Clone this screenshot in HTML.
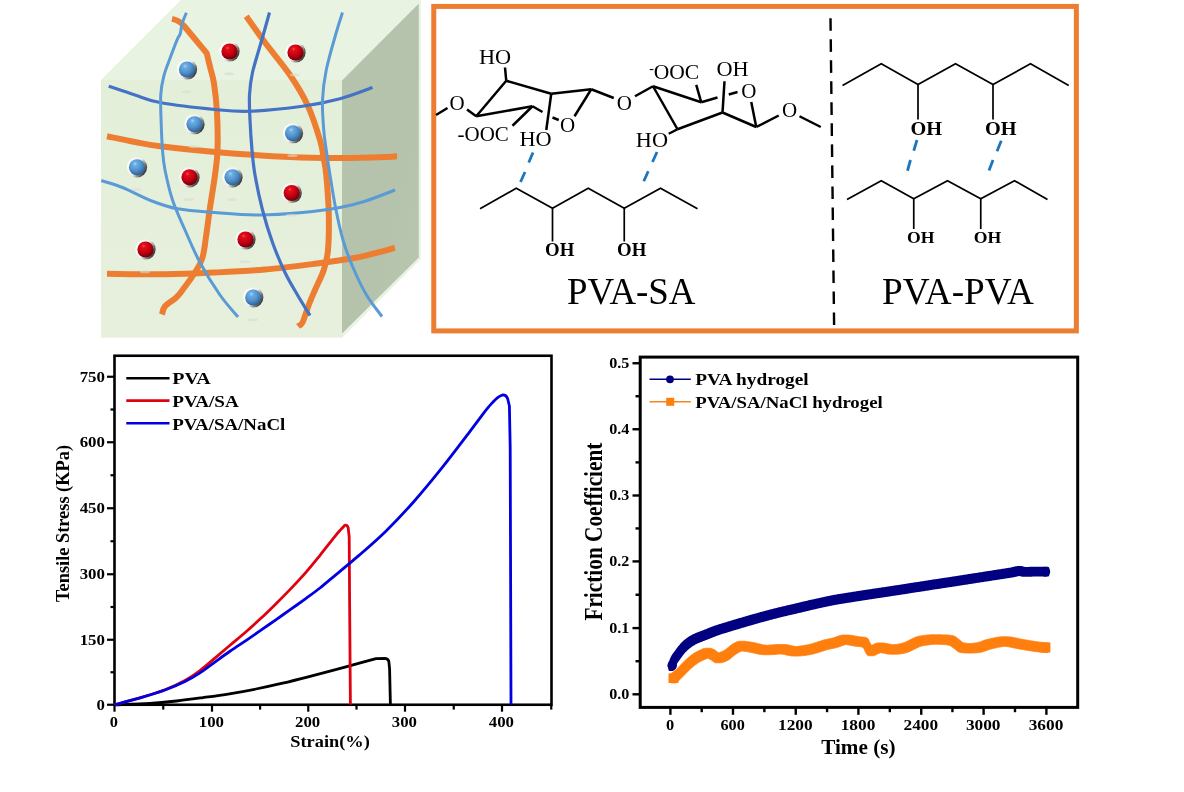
<!DOCTYPE html>
<html lang="en"><head><meta charset="utf-8"><title>PVA/SA/NaCl hydrogel</title>
<style>
html,body{margin:0;padding:0;background:#fff;}
body{width:1184px;height:792px;overflow:hidden;font-family:"Liberation Serif",serif;}
svg{display:block;position:absolute;left:0;top:0;}
text{font-family:"Liberation Serif",serif;}
.b{font-weight:bold;}
</style></head><body>
<svg width="1184" height="792" viewBox="0 0 1184 792">
<defs>
<radialGradient id="gr" cx="0.40" cy="0.33" r="0.68" fx="0.38" fy="0.28">
<stop offset="0" stop-color="#ff5252"/><stop offset="0.16" stop-color="#e20f18"/><stop offset="0.6" stop-color="#c00010"/><stop offset="1" stop-color="#6e0006"/>
</radialGradient>
<radialGradient id="gb" cx="0.40" cy="0.33" r="0.68" fx="0.38" fy="0.28">
<stop offset="0" stop-color="#a6d8fb"/><stop offset="0.18" stop-color="#6aaee4"/><stop offset="0.6" stop-color="#4f8fc9"/><stop offset="1" stop-color="#2f5f90"/>
</radialGradient>
<linearGradient id="rim" x1="0.05" y1="0.25" x2="0.95" y2="0.75">
<stop offset="0" stop-color="#ffffff"/><stop offset="0.5" stop-color="#eeeeee"/><stop offset="0.78" stop-color="#777777"/><stop offset="1" stop-color="#2a2a2a"/>
</linearGradient>
<linearGradient id="side" x1="0" y1="0" x2="1" y2="1">
<stop offset="0" stop-color="#b6c4ae"/><stop offset="0.6" stop-color="#b5c3ad"/><stop offset="1" stop-color="#b9c7b1"/>
</linearGradient>
<linearGradient id="front" x1="0" y1="0" x2="0" y2="1">
<stop offset="0" stop-color="#e4efda"/><stop offset="1" stop-color="#e6f0dc"/>
</linearGradient>
<filter id="blur1" x="-20%" y="-20%" width="140%" height="140%"><feGaussianBlur stdDeviation="0.5"/></filter>
<filter id="blur03" x="-20%" y="-20%" width="140%" height="140%"><feGaussianBlur stdDeviation="0.35"/></filter>
<filter id="blur2" x="-50%" y="-50%" width="200%" height="200%"><feGaussianBlur stdDeviation="1.0"/></filter>
</defs>
<rect x="0" y="0" width="1184" height="792" fill="#ffffff"/>

<g id="cube">
<polygon points="101,80 181,0 420.8,0 420.8,259 342.3,337.4 101,337.4" fill="#e9f3e1"/>
<rect x="101" y="80" width="241" height="257.4" fill="url(#front)"/>
<polygon points="342,80.6 418.8,3.6 418.8,257.4 342,333.6" fill="url(#side)"/>
<path d="M107.00,136.25 C111.67,137.21 126.17,140.33 135.00,142.00 C143.83,143.67 146.67,144.58 160.00,146.25 C173.33,147.92 193.33,150.21 215.00,152.00 C236.67,153.79 269.17,156.00 290.00,157.00 C310.83,158.00 324.00,158.00 340.00,158.00 C356.00,158.00 376.50,157.33 386.00,157.00 C395.50,156.67 395.17,156.17 397.00,156.00" fill="none" stroke="#ed7d31" stroke-width="6.0" stroke-linecap="butt" stroke-linejoin="round"/>
<path d="M107.00,273.75 C116.67,273.83 147.00,274.46 165.00,274.25 C183.00,274.04 198.33,273.29 215.00,272.50 C231.67,271.71 248.33,270.96 265.00,269.50 C281.67,268.04 300.42,265.62 315.00,263.75 C329.58,261.88 340.67,260.54 352.50,258.30 C364.33,256.06 378.95,252.08 386.00,250.30 C393.05,248.52 393.33,248.05 394.80,247.60" fill="none" stroke="#ed7d31" stroke-width="6.0" stroke-linecap="butt" stroke-linejoin="round"/>
<path d="M172,18.9 Q179.5,20.3 184.5,26.5 L206.7,53.1 C207.30,55.58 209.08,62.93 210.30,68.00 C211.52,73.07 212.88,76.08 214.00,83.50 C215.12,90.92 216.42,101.42 217.00,112.50 C217.58,123.58 217.83,139.58 217.50,150.00 C217.17,160.42 216.25,165.42 215.00,175.00 C213.75,184.58 211.46,197.50 210.00,207.50 C208.54,217.50 207.50,226.67 206.25,235.00 C205.00,243.33 204.38,251.25 202.50,257.50 C200.62,263.75 198.33,267.08 195.00,272.50 C191.67,277.92 185.62,285.83 182.50,290.00 C179.38,294.17 179.17,294.79 176.25,297.50 C173.33,300.21 167.38,303.42 165.00,306.25 C162.62,309.08 162.50,313.12 162.00,314.50" fill="none" stroke="#ed7d31" stroke-width="6.0" stroke-linecap="butt" stroke-linejoin="round"/>
<path d="M246.25,16.25 C249.38,20.62 257.71,32.71 265.00,42.50 C272.29,52.29 282.92,64.58 290.00,75.00 C297.08,85.42 302.50,94.17 307.50,105.00 C312.50,115.83 317.25,130.83 320.00,140.00 C322.75,149.17 322.96,154.17 324.00,160.00 C325.04,165.83 325.46,166.25 326.25,175.00 C327.04,183.75 328.46,200.00 328.75,212.50 C329.04,225.00 328.83,240.42 328.00,250.00 C327.17,259.58 325.92,263.33 323.75,270.00 C321.58,276.67 317.50,284.17 315.00,290.00 C312.50,295.83 310.83,299.58 308.75,305.00 C306.67,310.42 304.29,318.96 302.50,322.50 C300.71,326.04 298.75,325.62 298.00,326.25" fill="none" stroke="#ed7d31" stroke-width="6.0" stroke-linecap="butt" stroke-linejoin="round"/>
<path d="M108.75,86.25 C113.12,87.71 126.46,92.29 135.00,95.00 C143.54,97.71 146.67,100.08 160.00,102.50 C173.33,104.92 200.00,108.04 215.00,109.50 C230.00,110.96 235.42,111.79 250.00,111.25 C264.58,110.71 287.50,108.33 302.50,106.25 C317.50,104.17 328.33,101.88 340.00,98.75 C351.67,95.62 367.08,89.38 372.50,87.50" fill="none" stroke="#4472c4" stroke-width="3.2" stroke-linecap="butt" stroke-linejoin="round"/>
<path d="M101.25,180.50 C104.79,181.67 113.96,184.04 122.50,187.50 C131.04,190.96 143.33,197.71 152.50,201.25 C161.67,204.79 167.08,206.88 177.50,208.75 C187.92,210.62 201.25,211.46 215.00,212.50 C228.75,213.54 245.42,215.00 260.00,215.00 C274.58,215.00 289.17,213.75 302.50,212.50 C315.83,211.25 329.58,209.38 340.00,207.50 C350.42,205.62 355.83,204.17 365.00,201.25 C374.17,198.33 390.00,191.88 395.00,190.00" fill="none" stroke="#5b9bd5" stroke-width="3.0" stroke-linecap="butt" stroke-linejoin="round"/>
<path d="M186.40,12.70 C185.68,14.53 183.12,20.23 182.10,23.70 C181.08,27.17 181.13,30.82 180.30,33.50 C179.47,36.18 178.77,35.80 177.10,39.80 C175.43,43.80 172.52,51.45 170.30,57.50 C168.08,63.55 165.39,69.85 163.80,76.10 C162.21,82.35 161.18,86.85 160.75,95.00 C160.32,103.15 160.96,115.83 161.25,125.00 C161.54,134.17 161.88,142.50 162.50,150.00 C163.12,157.50 163.33,161.67 165.00,170.00 C166.67,178.33 169.17,190.00 172.50,200.00 C175.83,210.00 180.42,219.58 185.00,230.00 C189.58,240.42 194.17,251.67 200.00,262.50 C205.83,273.33 213.67,285.92 220.00,295.00 C226.33,304.08 235.00,313.33 238.00,317.00" fill="none" stroke="#5b9bd5" stroke-width="3.0" stroke-linecap="butt" stroke-linejoin="round"/>
<path d="M269.50,12.50 C268.33,16.67 265.33,27.50 262.50,37.50 C259.67,47.50 254.67,62.92 252.50,72.50 C250.33,82.08 249.92,87.08 249.50,95.00 C249.08,102.92 249.58,110.83 250.00,120.00 C250.42,129.17 251.17,140.83 252.00,150.00 C252.83,159.17 253.25,165.00 255.00,175.00 C256.75,185.00 259.58,198.75 262.50,210.00 C265.42,221.25 268.75,232.08 272.50,242.50 C276.25,252.92 280.83,263.75 285.00,272.50 C289.17,281.25 293.33,287.83 297.50,295.00 C301.67,302.17 307.92,312.08 310.00,315.50" fill="none" stroke="#4472c4" stroke-width="3.2" stroke-linecap="butt" stroke-linejoin="round"/>
<path d="M342.50,12.50 C341.46,15.83 338.96,22.92 336.25,32.50 C333.54,42.08 328.54,58.75 326.25,70.00 C323.96,81.25 322.92,90.00 322.50,100.00 C322.08,110.00 323.12,121.67 323.75,130.00 C324.38,138.33 325.21,142.50 326.25,150.00 C327.29,157.50 328.46,165.42 330.00,175.00 C331.54,184.58 333.33,196.67 335.50,207.50 C337.67,218.33 340.08,230.00 343.00,240.00 C345.92,250.00 349.08,258.33 353.00,267.50 C356.92,276.67 361.67,286.83 366.50,295.00 C371.33,303.17 379.42,312.92 382.00,316.50" fill="none" stroke="#5b9bd5" stroke-width="3.0" stroke-linecap="butt" stroke-linejoin="round"/>
<ellipse cx="229.00" cy="73.80" rx="5.2" ry="1.5" fill="#d8ddd2" opacity="0.6" filter="url(#blur1)"/>
<circle cx="229.50" cy="51.50" r="10.1" fill="url(#rim)" filter="url(#blur03)"/>
<circle cx="229.50" cy="51.50" r="8.1" fill="url(#gr)"/>
<ellipse cx="295.00" cy="74.80" rx="5.2" ry="1.5" fill="#d8ddd2" opacity="0.6" filter="url(#blur1)"/>
<circle cx="295.50" cy="52.50" r="10.1" fill="url(#rim)" filter="url(#blur03)"/>
<circle cx="295.50" cy="52.50" r="8.1" fill="url(#gr)"/>
<ellipse cx="186.50" cy="91.80" rx="5.2" ry="1.5" fill="#d8ddd2" opacity="0.6" filter="url(#blur1)"/>
<circle cx="187.00" cy="69.50" r="10.1" fill="url(#rim)" filter="url(#blur03)"/>
<circle cx="187.00" cy="69.50" r="8.1" fill="url(#gb)"/>
<ellipse cx="194.00" cy="146.55" rx="5.2" ry="1.5" fill="#d8ddd2" opacity="0.6" filter="url(#blur1)"/>
<circle cx="194.50" cy="124.25" r="10.1" fill="url(#rim)" filter="url(#blur03)"/>
<circle cx="194.50" cy="124.25" r="8.1" fill="url(#gb)"/>
<ellipse cx="292.50" cy="155.55" rx="5.2" ry="1.5" fill="#d8ddd2" opacity="0.6" filter="url(#blur1)"/>
<circle cx="293.00" cy="133.25" r="10.1" fill="url(#rim)" filter="url(#blur03)"/>
<circle cx="293.00" cy="133.25" r="8.1" fill="url(#gb)"/>
<ellipse cx="136.50" cy="189.60" rx="5.2" ry="1.5" fill="#d8ddd2" opacity="0.6" filter="url(#blur1)"/>
<circle cx="137.00" cy="167.30" r="10.1" fill="url(#rim)" filter="url(#blur03)"/>
<circle cx="137.00" cy="167.30" r="8.1" fill="url(#gb)"/>
<ellipse cx="189.00" cy="199.60" rx="5.2" ry="1.5" fill="#d8ddd2" opacity="0.6" filter="url(#blur1)"/>
<circle cx="189.50" cy="177.30" r="10.1" fill="url(#rim)" filter="url(#blur03)"/>
<circle cx="189.50" cy="177.30" r="8.1" fill="url(#gr)"/>
<ellipse cx="232.00" cy="199.60" rx="5.2" ry="1.5" fill="#d8ddd2" opacity="0.6" filter="url(#blur1)"/>
<circle cx="232.50" cy="177.30" r="10.1" fill="url(#rim)" filter="url(#blur03)"/>
<circle cx="232.50" cy="177.30" r="8.1" fill="url(#gb)"/>
<ellipse cx="291.20" cy="215.30" rx="5.2" ry="1.5" fill="#d8ddd2" opacity="0.6" filter="url(#blur1)"/>
<circle cx="291.70" cy="193.00" r="10.1" fill="url(#rim)" filter="url(#blur03)"/>
<circle cx="291.70" cy="193.00" r="8.1" fill="url(#gr)"/>
<ellipse cx="245.00" cy="261.80" rx="5.2" ry="1.5" fill="#d8ddd2" opacity="0.6" filter="url(#blur1)"/>
<circle cx="245.50" cy="239.50" r="10.1" fill="url(#rim)" filter="url(#blur03)"/>
<circle cx="245.50" cy="239.50" r="8.1" fill="url(#gr)"/>
<ellipse cx="145.00" cy="271.80" rx="5.2" ry="1.5" fill="#d8ddd2" opacity="0.6" filter="url(#blur1)"/>
<circle cx="145.50" cy="249.50" r="10.1" fill="url(#rim)" filter="url(#blur03)"/>
<circle cx="145.50" cy="249.50" r="8.1" fill="url(#gr)"/>
<ellipse cx="252.75" cy="319.80" rx="5.2" ry="1.5" fill="#d8ddd2" opacity="0.6" filter="url(#blur1)"/>
<circle cx="253.25" cy="297.50" r="10.1" fill="url(#rim)" filter="url(#blur03)"/>
<circle cx="253.25" cy="297.50" r="8.1" fill="url(#gb)"/>
</g>
<rect x="433.75" y="6.4" width="642.6" height="324.5" fill="#ffffff" stroke="#ed7d31" stroke-width="5"/>
<line x1="830.5" y1="18.25" x2="834.1" y2="325" stroke="#000" stroke-width="2.4" stroke-dasharray="12.6 8.42"/>
<g id="sa" fill="none" stroke="#000" stroke-width="2.5" stroke-linecap="butt" stroke-linejoin="miter">
<path d="M436.00,115.00 L447.50,108.00"/>
<path d="M467.00,109.50 L476.25,116.25"/>
<path d="M476.25,116.25 L506.25,80.75"/>
<path d="M506.25,80.75 L505.00,67.50"/>
<path d="M506.25,80.75 L551.25,93.75"/>
<path d="M551.25,93.75 L591.25,89.25"/>
<path d="M591.25,89.25 L613.75,98.00"/>
<path d="M591.25,89.25 L574.50,116.25"/>
<path d="M551.25,93.75 L546.25,130.00"/>
<path d="M476.25,116.25 L532.50,106.25"/>
<path d="M532.50,106.25 L542.50,112.00"/>
<path d="M552.50,117.50 L558.75,120.00"/>
<path d="M532.50,106.25 L512.50,125.75"/>
<path d="M635.00,96.25 L653.00,86.25"/>
<path d="M653.00,86.25 L701.25,102.30"/>
<path d="M701.25,102.30 L696.25,84.80"/>
<path d="M701.25,102.30 L717.50,97.50"/>
<path d="M728.75,94.50 L737.50,92.00"/>
<path d="M653.00,86.25 L677.50,129.25"/>
<path d="M677.50,129.25 L722.50,112.50"/>
<path d="M722.50,112.50 L724.50,81.25"/>
<path d="M722.50,112.50 L756.25,127.00"/>
<path d="M756.25,127.00 L751.25,102.00"/>
<path d="M756.25,127.00 L778.75,115.50"/>
<path d="M799.50,116.25 L820.75,127.00"/>
<path d="M677.50,129.25 L668.75,133.75"/>
</g>
<text x="479.00" y="63.75" font-size="21.00" text-anchor="start" textLength="32.2" lengthAdjust="spacingAndGlyphs">HO</text>
<text x="457.00" y="109.60" font-size="21.00" text-anchor="middle" >O</text>
<text x="457.50" y="141.25" font-size="21.00" text-anchor="start" textLength="51.3" lengthAdjust="spacingAndGlyphs">-OOC</text>
<text x="519.50" y="146.25" font-size="21.00" text-anchor="start" textLength="32.2" lengthAdjust="spacingAndGlyphs">HO</text>
<text x="567.50" y="132.20" font-size="21.00" text-anchor="middle" >O</text>
<text x="624.25" y="109.60" font-size="21.00" text-anchor="middle" >O</text>
<text x="649.30" y="72.50" font-size="14.00" text-anchor="start" >-</text>
<text x="653.75" y="78.75" font-size="21.00" text-anchor="start" textLength="45.5" lengthAdjust="spacingAndGlyphs">OOC</text>
<text x="635.80" y="147.00" font-size="21.00" text-anchor="start" textLength="32.2" lengthAdjust="spacingAndGlyphs">HO</text>
<text x="716.50" y="75.75" font-size="21.00" text-anchor="start" textLength="32.2" lengthAdjust="spacingAndGlyphs">OH</text>
<text x="748.75" y="97.60" font-size="21.00" text-anchor="middle" >O</text>
<text x="789.50" y="117.10" font-size="21.00" text-anchor="middle" >O</text>
<g stroke="#1c76bd" stroke-width="2.8" fill="none">
<path d="M533.00,152.50 L528.75,162.50"/>
<path d="M525.00,172.00 L520.50,182.00"/>
<path d="M657.00,152.00 L652.50,162.00"/>
<path d="M648.25,171.25 L643.75,181.25"/>
<path d="M917.00,140.00 L913.75,150.75"/>
<path d="M910.50,160.00 L907.50,170.75"/>
<path d="M1001.25,140.75 L997.00,151.25"/>
<path d="M993.00,160.00 L989.00,170.50"/>
</g>
<g fill="none" stroke="#000" stroke-width="1.7" stroke-linejoin="miter">
<path d="M480.00,208.75 L516.25,188.25 L552.50,208.25 L588.25,188.25 L624.25,208.25 L660.50,188.25 L697.50,208.75"/>
<path d="M552.5,208.25 V241.5 M624.25,208.25 V241.5"/>
<path d="M842.50,85.50 L881.25,63.75 L918.00,84.50 L955.50,63.75 L993.00,84.50 L1030.50,63.75 L1068.75,85.50"/>
<path d="M918,84.5 V119.5 M993,84.5 V119.5"/>
<path d="M847.00,199.50 L881.25,180.75 L913.75,198.75 L947.50,180.75 L980.75,198.75 L1014.50,180.75 L1047.50,199.50"/>
<path d="M913.75,198.75 V229 M980.75,198.75 V229"/>
</g>
<text x="545.00" y="255.50" font-size="18.30" text-anchor="start" class="b" textLength="29.3" lengthAdjust="spacingAndGlyphs">OH</text>
<text x="617.00" y="255.50" font-size="18.30" text-anchor="start" class="b" textLength="29.3" lengthAdjust="spacingAndGlyphs">OH</text>
<text x="910.50" y="135.00" font-size="19.00" text-anchor="start" class="b" textLength="31.6" lengthAdjust="spacingAndGlyphs">OH</text>
<text x="985.00" y="135.00" font-size="19.00" text-anchor="start" class="b" textLength="31.6" lengthAdjust="spacingAndGlyphs">OH</text>
<text x="907.00" y="243.25" font-size="17.00" text-anchor="start" class="b" textLength="27.5" lengthAdjust="spacingAndGlyphs">OH</text>
<text x="973.75" y="243.25" font-size="17.00" text-anchor="start" class="b" textLength="27.5" lengthAdjust="spacingAndGlyphs">OH</text>
<text x="567.00" y="304.25" font-size="38.00" text-anchor="start" textLength="128.5" lengthAdjust="spacingAndGlyphs">PVA-SA</text>
<text x="882.00" y="303.75" font-size="38.00" text-anchor="start" textLength="151.8" lengthAdjust="spacingAndGlyphs">PVA-PVA</text>
<g id="lc">
<rect x="114.5" y="355.75" width="437" height="349" fill="none" stroke="#000" stroke-width="2.6"/>
<g stroke="#000" stroke-width="2.2">
<line x1="107" y1="376.75" x2="114" y2="376.75"/>
<line x1="107" y1="442.25" x2="114" y2="442.25"/>
<line x1="107" y1="508.25" x2="114" y2="508.25"/>
<line x1="107" y1="574.25" x2="114" y2="574.25"/>
<line x1="107" y1="639.75" x2="114" y2="639.75"/>
<line x1="107" y1="704.75" x2="114" y2="704.75"/>
<line x1="110.5" y1="409.50" x2="114" y2="409.50"/>
<line x1="110.5" y1="475.25" x2="114" y2="475.25"/>
<line x1="110.5" y1="541.25" x2="114" y2="541.25"/>
<line x1="110.5" y1="607.00" x2="114" y2="607.00"/>
<line x1="110.5" y1="672.25" x2="114" y2="672.25"/>
<line x1="114.50" y1="705" x2="114.50" y2="711.7"/>
<line x1="212.00" y1="705" x2="212.00" y2="711.7"/>
<line x1="308.25" y1="705" x2="308.25" y2="711.7"/>
<line x1="405.00" y1="705" x2="405.00" y2="711.7"/>
<line x1="502.00" y1="705" x2="502.00" y2="711.7"/>
<line x1="163.25" y1="705" x2="163.25" y2="709.6"/>
<line x1="260.10" y1="705" x2="260.10" y2="709.6"/>
<line x1="356.50" y1="705" x2="356.50" y2="709.6"/>
<line x1="453.75" y1="705" x2="453.75" y2="709.6"/>
<line x1="551.25" y1="705" x2="551.25" y2="709.6"/>
</g>
<text x="105.00" y="381.65" font-size="14.30" text-anchor="end" class="b" textLength="25.3" lengthAdjust="spacingAndGlyphs">750</text>
<text x="105.00" y="447.15" font-size="14.30" text-anchor="end" class="b" textLength="25.3" lengthAdjust="spacingAndGlyphs">600</text>
<text x="105.00" y="513.15" font-size="14.30" text-anchor="end" class="b" textLength="25.3" lengthAdjust="spacingAndGlyphs">450</text>
<text x="105.00" y="579.15" font-size="14.30" text-anchor="end" class="b" textLength="25.3" lengthAdjust="spacingAndGlyphs">300</text>
<text x="105.00" y="644.65" font-size="14.30" text-anchor="end" class="b" textLength="25.3" lengthAdjust="spacingAndGlyphs">150</text>
<text x="105.00" y="709.65" font-size="14.30" text-anchor="end" class="b" textLength="8.4" lengthAdjust="spacingAndGlyphs">0</text>
<text x="113.90" y="726.60" font-size="14.30" text-anchor="middle" class="b" textLength="8.2" lengthAdjust="spacingAndGlyphs">0</text>
<text x="211.40" y="726.60" font-size="14.30" text-anchor="middle" class="b" textLength="25.2" lengthAdjust="spacingAndGlyphs">100</text>
<text x="307.65" y="726.60" font-size="14.30" text-anchor="middle" class="b" textLength="25.2" lengthAdjust="spacingAndGlyphs">200</text>
<text x="404.40" y="726.60" font-size="14.30" text-anchor="middle" class="b" textLength="25.2" lengthAdjust="spacingAndGlyphs">300</text>
<text x="501.40" y="726.60" font-size="14.30" text-anchor="middle" class="b" textLength="25.2" lengthAdjust="spacingAndGlyphs">400</text>
<text x="290.30" y="746.50" font-size="16.20" text-anchor="start" class="b" textLength="79.5" lengthAdjust="spacingAndGlyphs">Strain(%)</text>
<text transform="translate(69.4,602) rotate(-90)" font-size="18.9" class="b" textLength="157" lengthAdjust="spacingAndGlyphs">Tensile Stress (KPa)</text>
<line x1="126.3" y1="378.3" x2="169.5" y2="378.3" stroke="#000" stroke-width="2.6"/>
<line x1="126.3" y1="400.6" x2="169.5" y2="400.6" stroke="#e0000f" stroke-width="2.6"/>
<line x1="126.3" y1="423.3" x2="169.5" y2="423.3" stroke="#0000e0" stroke-width="2.6"/>
<text x="172.30" y="383.75" font-size="17.00" text-anchor="start" class="b" textLength="38.4" lengthAdjust="spacingAndGlyphs">PVA</text>
<text x="172.30" y="407.00" font-size="17.00" text-anchor="start" class="b" textLength="66.4" lengthAdjust="spacingAndGlyphs">PVA/SA</text>
<text x="172.30" y="429.50" font-size="17.00" text-anchor="start" class="b" textLength="113" lengthAdjust="spacingAndGlyphs">PVA/SA/NaCl</text>
<path d="M114.50,704.75 C120.42,704.52 139.67,704.02 150.00,703.40 C160.33,702.77 167.67,701.97 176.50,701.00 C185.33,700.03 194.17,698.80 203.00,697.60 C211.83,696.40 220.67,695.23 229.50,693.80 C238.33,692.37 247.15,690.77 256.00,689.00 C264.85,687.23 273.75,685.27 282.60,683.20 C291.45,681.13 300.27,678.87 309.10,676.60 C317.93,674.33 326.77,671.97 335.60,669.60 C344.43,667.23 355.37,664.22 362.10,662.40 C368.83,660.58 373.68,659.32 376.00,658.70 L385,658.3 Q388.6,658.6 388.9,662 L389.6,669 L390.4,704.5" fill="none" stroke="#000" stroke-width="2.8" stroke-linejoin="round"/>
<path d="M114.50,704.75 C118.75,703.61 131.58,700.39 140.00,697.90 C148.42,695.41 157.50,692.70 165.00,689.80 C172.50,686.90 179.17,683.70 185.00,680.50 C190.83,677.30 194.97,674.37 200.00,670.60 C205.03,666.83 210.15,662.17 215.20,657.90 C220.25,653.63 225.25,649.28 230.30,645.00 C235.35,640.72 240.45,636.60 245.50,632.20 C250.55,627.80 255.55,623.32 260.60,618.60 C265.65,613.88 270.75,608.90 275.80,603.90 C280.85,598.90 285.85,593.90 290.90,588.60 C295.95,583.30 301.25,577.65 306.10,572.10 C310.95,566.55 315.08,561.38 320.00,555.30 C324.92,549.22 332.10,539.92 335.60,535.60 C339.10,531.28 339.50,531.08 341.00,529.40 C342.50,527.72 344.00,526.15 344.60,525.50 Q347,524 348.2,528 L349.2,537 L349.6,600 L350.4,704.5" fill="none" stroke="#e0000f" stroke-width="2.8" stroke-linejoin="round"/>
<path d="M114.50,704.75 C118.75,703.61 131.58,700.36 140.00,697.90 C148.42,695.44 157.50,692.73 165.00,690.00 C172.50,687.27 179.17,684.35 185.00,681.50 C190.83,678.65 194.97,676.18 200.00,672.90 C205.03,669.62 210.15,665.45 215.20,661.80 C220.25,658.15 225.25,654.50 230.30,651.00 C235.35,647.50 240.45,644.23 245.50,640.80 C250.55,637.37 255.55,633.90 260.60,630.40 C265.65,626.90 270.75,623.33 275.80,619.80 C280.85,616.27 285.85,612.78 290.90,609.20 C295.95,605.62 301.25,601.83 306.10,598.30 C310.95,594.77 316.02,591.12 320.00,588.00 C323.98,584.88 323.70,584.87 330.00,579.60 C336.30,574.33 348.53,564.43 357.80,556.40 C367.07,548.37 376.35,540.43 385.60,531.40 C394.85,522.37 404.05,512.62 413.30,502.20 C422.55,491.78 431.83,480.47 441.10,468.90 C450.37,457.33 461.48,442.52 468.90,432.80 C476.32,423.08 481.58,415.73 485.60,410.60 C489.62,405.47 490.93,404.22 493.00,402.00 C495.07,399.78 496.40,398.48 498.00,397.30 C499.60,396.12 501.83,395.30 502.60,394.90 Q506,394.6 507.6,398.5 L509.4,406 L510.2,447.5 L511,704.5" fill="none" stroke="#0000e0" stroke-width="2.8" stroke-linejoin="round"/>
</g>
<g id="rc">
<rect x="640.2" y="357.1" width="437.5" height="350.3" fill="none" stroke="#000" stroke-width="3"/>
<g stroke="#000" stroke-width="2.4">
<line x1="632.5" y1="363.25" x2="639.5" y2="363.25"/>
<line x1="632.5" y1="429.25" x2="639.5" y2="429.25"/>
<line x1="632.5" y1="495.50" x2="639.5" y2="495.50"/>
<line x1="632.5" y1="561.40" x2="639.5" y2="561.40"/>
<line x1="632.5" y1="628.10" x2="639.5" y2="628.10"/>
<line x1="632.5" y1="694.30" x2="639.5" y2="694.30"/>
<line x1="635.5" y1="396.25" x2="639.5" y2="396.25"/>
<line x1="635.5" y1="462.38" x2="639.5" y2="462.38"/>
<line x1="635.5" y1="528.45" x2="639.5" y2="528.45"/>
<line x1="635.5" y1="594.75" x2="639.5" y2="594.75"/>
<line x1="635.5" y1="661.20" x2="639.5" y2="661.20"/>
<line x1="670.40" y1="708" x2="670.40" y2="714.8"/>
<line x1="733.00" y1="708" x2="733.00" y2="714.8"/>
<line x1="795.75" y1="708" x2="795.75" y2="714.8"/>
<line x1="858.40" y1="708" x2="858.40" y2="714.8"/>
<line x1="921.25" y1="708" x2="921.25" y2="714.8"/>
<line x1="983.60" y1="708" x2="983.60" y2="714.8"/>
<line x1="1046.40" y1="708" x2="1046.40" y2="714.8"/>
<line x1="701.70" y1="708" x2="701.70" y2="712.2"/>
<line x1="764.38" y1="708" x2="764.38" y2="712.2"/>
<line x1="827.08" y1="708" x2="827.08" y2="712.2"/>
<line x1="889.83" y1="708" x2="889.83" y2="712.2"/>
<line x1="952.42" y1="708" x2="952.42" y2="712.2"/>
<line x1="1015.00" y1="708" x2="1015.00" y2="712.2"/>
</g>
<text x="629.40" y="367.85" font-size="14.30" text-anchor="end" class="b" textLength="20.2" lengthAdjust="spacingAndGlyphs">0.5</text>
<text x="629.40" y="433.85" font-size="14.30" text-anchor="end" class="b" textLength="20.2" lengthAdjust="spacingAndGlyphs">0.4</text>
<text x="629.40" y="500.10" font-size="14.30" text-anchor="end" class="b" textLength="20.2" lengthAdjust="spacingAndGlyphs">0.3</text>
<text x="629.40" y="566.00" font-size="14.30" text-anchor="end" class="b" textLength="20.2" lengthAdjust="spacingAndGlyphs">0.2</text>
<text x="629.40" y="632.70" font-size="14.30" text-anchor="end" class="b" textLength="20.2" lengthAdjust="spacingAndGlyphs">0.1</text>
<text x="629.40" y="698.90" font-size="14.30" text-anchor="end" class="b" textLength="20.2" lengthAdjust="spacingAndGlyphs">0.0</text>
<text x="670.00" y="729.60" font-size="14.30" text-anchor="middle" class="b" textLength="8.2" lengthAdjust="spacingAndGlyphs">0</text>
<text x="732.60" y="729.60" font-size="14.30" text-anchor="middle" class="b" textLength="24.3" lengthAdjust="spacingAndGlyphs">600</text>
<text x="795.35" y="729.80" font-size="14.30" text-anchor="middle" class="b" textLength="34.6" lengthAdjust="spacingAndGlyphs">1200</text>
<text x="858.00" y="729.80" font-size="14.30" text-anchor="middle" class="b" textLength="34.6" lengthAdjust="spacingAndGlyphs">1800</text>
<text x="920.85" y="729.80" font-size="14.30" text-anchor="middle" class="b" textLength="34.6" lengthAdjust="spacingAndGlyphs">2400</text>
<text x="983.20" y="729.80" font-size="14.30" text-anchor="middle" class="b" textLength="34.6" lengthAdjust="spacingAndGlyphs">3000</text>
<text x="1046.00" y="729.80" font-size="14.30" text-anchor="middle" class="b" textLength="34.6" lengthAdjust="spacingAndGlyphs">3600</text>
<text x="821.25" y="754.00" font-size="21.20" text-anchor="start" class="b" textLength="74.3" lengthAdjust="spacingAndGlyphs">Time (s)</text>
<text transform="translate(602.0,620.6) rotate(-90)" font-size="24.5" class="b" textLength="178" lengthAdjust="spacingAndGlyphs">Friction Coefficient</text>
<line x1="649.5" y1="379.3" x2="690.8" y2="379.3" stroke="#000080" stroke-width="1.5"/>
<circle cx="670" cy="379.3" r="3.9" fill="#000080"/>
<line x1="649.5" y1="401.8" x2="690.8" y2="401.8" stroke="#f5861f" stroke-width="1.5"/>
<rect x="666.2" y="397.8" width="8" height="8" fill="#ff7f0e"/>
<text x="695.20" y="385.00" font-size="17.00" text-anchor="start" class="b" textLength="113.5" lengthAdjust="spacingAndGlyphs">PVA hydrogel</text>
<text x="695.20" y="407.50" font-size="17.00" text-anchor="start" class="b" textLength="187.5" lengthAdjust="spacingAndGlyphs">PVA/SA/NaCl hydrogel</text>
<path d="M669.9,662.9 L670.4,661.7 L670.9,660.6 L671.4,659.3 L671.9,658.2 L672.4,657.2 L672.9,656.2 L673.4,655.4 L673.9,654.7 L674.4,654.0 L674.9,653.4 L675.4,652.6 L675.9,652.0 L676.4,651.3 L676.9,650.6 L677.4,649.8 L677.9,649.2 L678.4,648.5 L678.9,647.8 L679.4,647.2 L679.9,646.6 L680.4,646.0 L680.9,645.5 L681.4,644.9 L681.9,644.4 L682.4,643.8 L682.9,643.3 L683.4,642.8 L683.9,642.2 L684.4,641.9 L684.9,641.5 L685.4,641.0 L685.9,640.6 L686.4,640.2 L686.9,639.9 L687.4,639.5 L687.9,639.1 L688.4,638.7 L688.9,638.4 L689.4,638.1 L689.9,637.8 L690.4,637.4 L690.9,637.2 L691.4,636.8 L691.9,636.6 L692.4,636.3 L692.9,636.0 L693.4,635.8 L693.9,635.5 L694.4,635.3 L694.9,635.1 L695.4,634.9 L695.9,634.7 L696.4,634.5 L696.9,634.2 L697.4,634.0 L697.9,633.8 L698.4,633.6 L698.9,633.4 L699.4,633.2 L699.9,633.1 L700.4,632.9 L700.9,632.7 L701.4,632.5 L701.9,632.3 L702.4,632.1 L702.9,631.9 L703.4,631.7 L703.9,631.6 L704.4,631.4 L704.9,631.2 L705.4,630.9 L705.9,630.8 L706.4,630.6 L706.9,630.3 L707.4,630.1 L707.9,630.0 L708.4,629.7 L708.9,629.5 L709.4,629.4 L709.9,629.1 L710.4,628.9 L710.9,628.8 L711.4,628.5 L711.9,628.4 L712.4,628.2 L712.9,627.9 L713.4,627.8 L713.9,627.6 L714.4,627.5 L714.9,627.2 L715.4,627.0 L715.9,626.9 L716.4,626.7 L716.9,626.6 L717.4,626.4 L717.9,626.2 L718.4,626.1 L718.9,625.9 L719.4,625.8 L719.9,625.5 L720.4,625.4 L720.9,625.3 L721.4,625.1 L721.9,625.0 L722.4,624.8 L722.9,624.7 L723.4,624.5 L723.9,624.4 L724.4,624.2 L724.9,624.1 L725.4,623.9 L725.9,623.8 L726.4,623.6 L726.9,623.5 L727.4,623.3 L727.9,623.2 L728.4,623.0 L728.9,622.9 L729.4,622.6 L729.9,622.5 L730.4,622.4 L730.9,622.2 L731.4,622.1 L731.9,621.9 L732.4,621.8 L732.9,621.7 L733.4,621.4 L733.9,621.3 L734.4,621.2 L734.9,621.0 L735.4,620.9 L735.9,620.8 L736.4,620.6 L736.9,620.4 L737.4,620.3 L737.9,620.2 L738.4,620.0 L738.9,619.8 L739.4,619.7 L739.9,619.5 L740.4,619.4 L740.9,619.3 L741.4,619.1 L741.9,619.0 L742.4,618.8 L742.9,618.6 L743.4,618.5 L743.9,618.4 L744.4,618.2 L744.9,618.1 L745.4,618.0 L745.9,617.7 L746.4,617.6 L746.9,617.5 L747.4,617.3 L747.9,617.2 L748.4,617.1 L748.9,616.9 L749.4,616.8 L749.9,616.7 L750.4,616.5 L750.9,616.4 L751.4,616.1 L751.9,616.0 L752.4,615.9 L752.9,615.7 L753.4,615.6 L753.9,615.5 L754.4,615.3 L754.9,615.2 L755.4,615.1 L755.9,615.0 L756.4,614.8 L756.9,614.6 L757.4,614.5 L757.9,614.3 L758.4,614.2 L758.9,614.1 L759.4,614.0 L759.9,613.8 L760.4,613.7 L760.9,613.5 L761.4,613.4 L761.9,613.3 L762.4,613.1 L762.9,613.0 L763.4,612.9 L763.9,612.8 L764.4,612.6 L764.9,612.4 L765.4,612.3 L765.9,612.2 L766.4,612.1 L766.9,612.0 L767.4,611.7 L767.9,611.6 L768.4,611.5 L768.9,611.4 L769.4,611.3 L769.9,611.2 L770.4,611.1 L770.9,610.8 L771.4,610.7 L771.9,610.6 L772.4,610.5 L772.9,610.4 L773.4,610.3 L773.9,610.2 L774.4,609.9 L774.9,609.8 L775.4,609.7 L775.9,609.6 L776.4,609.5 L776.9,609.4 L777.4,609.3 L777.9,609.1 L778.4,608.9 L778.9,608.8 L779.4,608.7 L779.9,608.6 L780.4,608.5 L780.9,608.4 L781.4,608.3 L781.9,608.1 L782.4,608.0 L782.9,607.9 L783.4,607.8 L783.9,607.7 L784.4,607.6 L784.9,607.5 L785.4,607.4 L785.9,607.2 L786.4,607.1 L786.9,606.9 L787.4,606.8 L787.9,606.7 L788.4,606.6 L788.9,606.5 L789.4,606.4 L789.9,606.3 L790.4,606.2 L790.9,606.1 L791.4,605.9 L791.9,605.8 L792.4,605.7 L792.9,605.6 L793.4,605.5 L793.9,605.4 L794.4,605.2 L794.9,605.1 L795.4,605.0 L795.9,604.8 L796.4,604.7 L796.9,604.6 L797.4,604.5 L797.9,604.4 L798.4,604.3 L798.9,604.2 L799.4,604.1 L799.9,603.9 L800.4,603.8 L800.9,603.6 L801.4,603.5 L801.9,603.4 L802.4,603.3 L802.9,603.2 L803.4,603.1 L803.9,602.9 L804.4,602.8 L804.9,602.7 L805.4,602.6 L805.9,602.5 L806.4,602.4 L806.9,602.3 L807.4,602.2 L807.9,602.1 L808.4,601.9 L808.9,601.7 L809.4,601.6 L809.9,601.5 L810.4,601.4 L810.9,601.3 L811.4,601.2 L811.9,601.1 L812.4,601.0 L812.9,600.9 L813.4,600.8 L813.9,600.7 L814.4,600.6 L814.9,600.5 L815.4,600.3 L815.9,600.2 L816.4,600.1 L816.9,600.0 L817.4,599.9 L817.9,599.8 L818.4,599.7 L818.9,599.6 L819.4,599.5 L819.9,599.4 L820.4,599.2 L820.9,599.1 L821.4,599.0 L821.9,598.9 L822.4,598.8 L822.9,598.7 L823.4,598.6 L823.9,598.5 L824.4,598.4 L824.9,598.3 L825.4,598.1 L825.9,598.0 L826.4,597.9 L826.9,597.8 L827.4,597.7 L827.9,597.6 L828.4,597.5 L828.9,597.4 L829.4,597.3 L829.9,597.2 L830.4,597.1 L830.9,597.0 L831.4,596.9 L831.9,596.8 L832.4,596.7 L832.9,596.6 L833.4,596.6 L833.9,596.4 L834.4,596.3 L834.9,596.2 L835.4,596.2 L835.9,596.1 L836.4,596.0 L836.9,595.9 L837.4,595.8 L837.9,595.8 L838.4,595.6 L838.9,595.6 L839.4,595.5 L839.9,595.4 L840.4,595.3 L840.9,595.3 L841.4,595.2 L841.9,595.1 L842.4,595.0 L842.9,594.9 L843.4,594.9 L843.9,594.8 L844.4,594.7 L844.9,594.6 L845.4,594.5 L845.9,594.5 L846.4,594.4 L846.9,594.3 L847.4,594.2 L847.9,594.1 L848.4,594.1 L848.9,594.0 L849.4,593.9 L849.9,593.9 L850.4,593.7 L850.9,593.7 L851.4,593.6 L851.9,593.5 L852.4,593.4 L852.9,593.3 L853.4,593.3 L853.9,593.2 L854.4,593.1 L854.9,593.0 L855.4,593.0 L855.9,592.9 L856.4,592.8 L856.9,592.7 L857.4,592.6 L857.9,592.6 L858.4,592.5 L858.9,592.4 L859.4,592.3 L859.9,592.3 L860.4,592.2 L860.9,592.1 L861.4,592.0 L861.9,592.0 L862.4,591.8 L862.9,591.8 L863.4,591.7 L863.9,591.6 L864.4,591.6 L864.9,591.5 L865.4,591.4 L865.9,591.3 L866.4,591.3 L866.9,591.2 L867.4,591.1 L867.9,591.0 L868.4,590.9 L868.9,590.9 L869.4,590.8 L869.9,590.7 L870.4,590.7 L870.9,590.6 L871.4,590.5 L871.9,590.4 L872.4,590.3 L872.9,590.3 L873.4,590.2 L873.9,590.1 L874.4,590.1 L874.9,590.0 L875.4,589.9 L875.9,589.9 L876.4,589.7 L876.9,589.7 L877.4,589.6 L877.9,589.5 L878.4,589.5 L878.9,589.4 L879.4,589.3 L879.9,589.2 L880.4,589.2 L880.9,589.1 L881.4,589.0 L881.9,588.9 L882.4,588.8 L882.9,588.8 L883.4,588.8 L883.9,588.7 L884.4,588.6 L884.9,588.5 L885.4,588.4 L885.9,588.4 L886.4,588.3 L886.9,588.2 L887.4,588.1 L887.9,588.0 L888.4,588.0 L888.9,587.9 L889.4,587.8 L889.9,587.7 L890.4,587.7 L890.9,587.6 L891.4,587.5 L891.9,587.4 L892.4,587.4 L892.9,587.3 L893.4,587.2 L893.9,587.1 L894.4,587.1 L894.9,587.0 L895.4,586.9 L895.9,586.8 L896.4,586.8 L896.9,586.7 L897.4,586.6 L897.9,586.5 L898.4,586.5 L898.9,586.4 L899.4,586.3 L899.9,586.2 L900.4,586.2 L900.9,586.1 L901.4,586.0 L901.9,585.9 L902.4,585.8 L902.9,585.8 L903.4,585.7 L903.9,585.6 L904.4,585.5 L904.9,585.4 L905.4,585.4 L905.9,585.3 L906.4,585.2 L906.9,585.1 L907.4,585.0 L907.9,585.0 L908.4,584.9 L908.9,584.8 L909.4,584.7 L909.9,584.6 L910.4,584.6 L910.9,584.5 L911.4,584.4 L911.9,584.3 L912.4,584.2 L912.9,584.2 L913.4,584.1 L913.9,584.0 L914.4,583.9 L914.9,583.8 L915.4,583.8 L915.9,583.7 L916.4,583.7 L916.9,583.6 L917.4,583.5 L917.9,583.5 L918.4,583.4 L918.9,583.3 L919.4,583.2 L919.9,583.1 L920.4,583.1 L920.9,583.0 L921.4,582.9 L921.9,582.8 L922.4,582.7 L922.9,582.7 L923.4,582.6 L923.9,582.5 L924.4,582.4 L924.9,582.3 L925.4,582.3 L925.9,582.2 L926.4,582.1 L926.9,582.0 L927.4,581.9 L927.9,581.9 L928.4,581.8 L928.9,581.7 L929.4,581.6 L929.9,581.5 L930.4,581.5 L930.9,581.4 L931.4,581.3 L931.9,581.2 L932.4,581.1 L932.9,581.1 L933.4,581.0 L933.9,580.9 L934.4,580.8 L934.9,580.7 L935.4,580.7 L935.9,580.7 L936.4,580.6 L936.9,580.5 L937.4,580.4 L937.9,580.4 L938.4,580.3 L938.9,580.2 L939.4,580.1 L939.9,580.0 L940.4,580.0 L940.9,579.9 L941.4,579.8 L941.9,579.7 L942.4,579.6 L942.9,579.6 L943.4,579.5 L943.9,579.4 L944.4,579.3 L944.9,579.2 L945.4,579.2 L945.9,579.1 L946.4,579.0 L946.9,578.9 L947.4,578.9 L947.9,578.9 L948.4,578.8 L948.9,578.7 L949.4,578.6 L949.9,578.5 L950.4,578.5 L950.9,578.4 L951.4,578.3 L951.9,578.2 L952.4,578.1 L952.9,578.1 L953.4,578.0 L953.9,577.9 L954.4,577.8 L954.9,577.8 L955.4,577.7 L955.9,577.6 L956.4,577.5 L956.9,577.4 L957.4,577.4 L957.9,577.3 L958.4,577.2 L958.9,577.1 L959.4,577.0 L959.9,577.0 L960.4,576.9 L960.9,576.8 L961.4,576.7 L961.9,576.7 L962.4,576.6 L962.9,576.5 L963.4,576.4 L963.9,576.3 L964.4,576.3 L964.9,576.2 L965.4,576.1 L965.9,576.0 L966.4,576.0 L966.9,575.9 L967.4,575.8 L967.9,575.7 L968.4,575.6 L968.9,575.6 L969.4,575.5 L969.9,575.4 L970.4,575.3 L970.9,575.2 L971.4,575.2 L971.9,575.1 L972.4,575.0 L972.9,574.9 L973.4,574.8 L973.9,574.8 L974.4,574.7 L974.9,574.6 L975.4,574.5 L975.9,574.4 L976.4,574.4 L976.9,574.4 L977.4,574.3 L977.9,574.2 L978.4,574.1 L978.9,574.0 L979.4,573.9 L979.9,573.8 L980.4,573.7 L980.9,573.7 L981.4,573.7 L981.9,573.6 L982.4,573.5 L982.9,573.4 L983.4,573.3 L983.9,573.2 L984.4,573.1 L984.9,573.1 L985.4,573.0 L985.9,572.9 L986.4,572.8 L986.9,572.7 L987.4,572.6 L987.9,572.6 L988.4,572.6 L988.9,572.5 L989.4,572.4 L989.9,572.3 L990.4,572.2 L990.9,572.2 L991.4,572.1 L991.9,572.0 L992.4,571.9 L992.9,571.9 L993.4,571.7 L993.9,571.6 L994.4,571.6 L994.9,571.5 L995.4,571.4 L995.9,571.4 L996.4,571.3 L996.9,571.2 L997.4,571.2 L997.9,571.0 L998.4,571.0 L998.9,570.9 L999.4,570.8 L999.9,570.7 L1000.4,570.7 L1000.9,570.6 L1001.4,570.5 L1001.9,570.4 L1002.4,570.3 L1002.9,570.3 L1003.4,570.2 L1003.9,570.1 L1004.4,570.0 L1004.9,569.9 L1005.4,569.9 L1005.9,569.8 L1006.4,569.7 L1006.9,569.6 L1007.4,569.6 L1007.9,569.5 L1008.4,569.4 L1008.9,569.3 L1009.4,569.3 L1009.9,569.2 L1010.4,569.1 L1010.9,569.0 L1011.4,568.9 L1011.9,568.8 L1012.4,568.7 L1012.9,568.5 L1013.4,568.4 L1013.9,568.3 L1014.4,568.2 L1014.9,568.0 L1015.4,567.9 L1015.9,567.8 L1016.4,567.7 L1016.9,567.6 L1017.4,567.5 L1017.9,567.5 L1018.4,567.5 L1018.9,567.5 L1019.4,567.5 L1019.9,567.5 L1020.4,567.5 L1020.9,567.5 L1021.4,567.5 L1021.9,567.6 L1022.4,567.8 L1022.9,567.9 L1023.4,568.1 L1023.9,568.2 L1024.3,568.3 L1024.8,568.4 L1025.3,568.4 L1025.8,568.4 L1026.3,568.4 L1026.8,568.4 L1027.3,568.4 L1027.8,568.4 L1028.3,568.4 L1028.8,568.4 L1029.3,568.4 L1029.8,568.3 L1030.3,568.3 L1030.8,568.3 L1031.3,568.3 L1031.8,568.3 L1032.3,568.3 L1032.8,568.3 L1033.3,568.3 L1033.8,568.3 L1034.3,568.3 L1034.8,568.3 L1035.3,568.3 L1035.8,568.3 L1036.3,568.3 L1036.8,568.3 L1037.3,568.3 L1037.8,568.3 L1038.3,568.3 L1038.8,568.3 L1039.3,568.3 L1039.8,568.3 L1040.3,568.3 L1040.8,568.3 L1041.3,568.3 L1041.8,568.3 L1042.3,568.3 L1042.8,568.3 L1043.3,568.3 L1043.8,568.3 L1044.3,568.3 L1044.8,568.3 L1045.3,568.3 L1045.8,568.3 L1046.3,568.3 L1046.8,568.3 L1047.3,568.3 L1047.8,568.3 L1047.8,575.1 L1047.3,575.1 L1046.8,575.1 L1046.3,575.1 L1045.8,575.1 L1045.3,575.1 L1044.8,575.1 L1044.3,575.1 L1043.8,575.1 L1043.3,575.1 L1042.8,575.1 L1042.3,575.1 L1041.8,575.1 L1041.3,575.1 L1040.8,575.1 L1040.3,575.1 L1039.8,575.1 L1039.3,575.1 L1038.8,575.1 L1038.3,575.1 L1037.8,575.1 L1037.3,575.1 L1036.8,575.1 L1036.3,575.1 L1035.8,575.1 L1035.3,575.1 L1034.8,575.1 L1034.3,575.1 L1033.8,575.1 L1033.3,575.1 L1032.8,575.1 L1032.3,575.1 L1031.8,575.2 L1031.3,575.2 L1030.8,575.2 L1030.3,575.2 L1029.8,575.2 L1029.3,575.2 L1028.8,575.2 L1028.3,575.2 L1027.8,575.2 L1027.3,575.2 L1026.8,575.2 L1026.3,575.2 L1025.8,575.2 L1025.3,575.2 L1024.8,575.2 L1024.3,575.2 L1023.9,575.2 L1023.4,575.2 L1022.9,575.2 L1022.4,575.2 L1021.9,575.1 L1021.4,575.0 L1020.9,574.9 L1020.4,574.8 L1019.9,574.6 L1019.4,574.5 L1018.9,574.5 L1018.4,574.6 L1017.9,574.7 L1017.4,574.8 L1016.9,575.0 L1016.4,575.1 L1015.9,575.2 L1015.4,575.4 L1014.9,575.5 L1014.4,575.6 L1013.9,575.7 L1013.4,575.8 L1012.9,575.9 L1012.4,576.0 L1011.9,576.1 L1011.4,576.1 L1010.9,576.2 L1010.4,576.3 L1009.9,576.4 L1009.4,576.4 L1008.9,576.5 L1008.4,576.6 L1007.9,576.7 L1007.4,576.7 L1006.9,576.8 L1006.4,576.9 L1005.9,577.0 L1005.4,577.1 L1004.9,577.1 L1004.4,577.2 L1003.9,577.3 L1003.4,577.3 L1002.9,577.5 L1002.4,577.5 L1001.9,577.6 L1001.4,577.7 L1000.9,577.8 L1000.4,577.8 L999.9,577.9 L999.4,578.0 L998.9,578.1 L998.4,578.2 L997.9,578.2 L997.4,578.3 L996.9,578.4 L996.4,578.4 L995.9,578.5 L995.4,578.6 L994.9,578.7 L994.4,578.7 L993.9,578.8 L993.4,578.9 L992.9,579.0 L992.4,579.0 L991.9,579.1 L991.4,579.2 L990.9,579.3 L990.4,579.4 L989.9,579.4 L989.4,579.5 L988.9,579.6 L988.4,579.7 L987.9,579.8 L987.4,579.9 L986.9,579.9 L986.4,580.0 L985.9,580.0 L985.4,580.1 L984.9,580.2 L984.4,580.3 L983.9,580.4 L983.4,580.5 L982.9,580.5 L982.4,580.6 L981.9,580.7 L981.4,580.8 L980.9,580.8 L980.4,580.9 L979.9,581.0 L979.4,581.1 L978.9,581.2 L978.4,581.2 L977.9,581.3 L977.4,581.3 L976.9,581.4 L976.4,581.5 L975.9,581.6 L975.4,581.7 L974.9,581.8 L974.4,581.8 L973.9,581.9 L973.4,582.0 L972.9,582.1 L972.4,582.2 L971.9,582.2 L971.4,582.3 L970.9,582.4 L970.4,582.5 L969.9,582.6 L969.4,582.6 L968.9,582.7 L968.4,582.8 L967.9,582.9 L967.4,582.9 L966.9,583.0 L966.4,583.1 L965.9,583.2 L965.4,583.2 L964.9,583.3 L964.4,583.4 L963.9,583.5 L963.4,583.6 L962.9,583.6 L962.4,583.7 L961.9,583.8 L961.4,583.9 L960.9,583.9 L960.4,584.0 L959.9,584.1 L959.4,584.2 L958.9,584.3 L958.4,584.3 L957.9,584.4 L957.4,584.5 L956.9,584.6 L956.4,584.7 L955.9,584.7 L955.4,584.8 L954.9,584.9 L954.4,585.0 L953.9,585.1 L953.4,585.1 L952.9,585.2 L952.4,585.3 L951.9,585.4 L951.4,585.5 L950.9,585.5 L950.4,585.6 L949.9,585.7 L949.4,585.7 L948.9,585.8 L948.4,585.8 L947.9,585.9 L947.4,586.0 L946.9,586.1 L946.4,586.2 L945.9,586.2 L945.4,586.3 L944.9,586.4 L944.4,586.5 L943.9,586.6 L943.4,586.6 L942.9,586.7 L942.4,586.8 L941.9,586.9 L941.4,587.0 L940.9,587.0 L940.4,587.1 L939.9,587.2 L939.4,587.3 L938.9,587.4 L938.4,587.4 L937.9,587.5 L937.4,587.5 L936.9,587.6 L936.4,587.7 L935.9,587.7 L935.4,587.8 L934.9,587.9 L934.4,588.0 L933.9,588.1 L933.4,588.1 L932.9,588.2 L932.4,588.3 L931.9,588.4 L931.4,588.5 L930.9,588.5 L930.4,588.6 L929.9,588.7 L929.4,588.8 L928.9,588.9 L928.4,588.9 L927.9,589.0 L927.4,589.1 L926.9,589.2 L926.4,589.3 L925.9,589.3 L925.4,589.4 L924.9,589.5 L924.4,589.6 L923.9,589.7 L923.4,589.7 L922.9,589.8 L922.4,589.9 L921.9,590.0 L921.4,590.1 L920.9,590.1 L920.4,590.2 L919.9,590.3 L919.4,590.4 L918.9,590.5 L918.4,590.5 L917.9,590.5 L917.4,590.6 L916.9,590.7 L916.4,590.8 L915.9,590.8 L915.4,590.9 L914.9,591.0 L914.4,591.1 L913.9,591.2 L913.4,591.2 L912.9,591.3 L912.4,591.4 L911.9,591.5 L911.4,591.6 L910.9,591.6 L910.4,591.7 L909.9,591.8 L909.4,591.9 L908.9,592.0 L908.4,592.0 L907.9,592.1 L907.4,592.2 L906.9,592.3 L906.4,592.4 L905.9,592.4 L905.4,592.5 L904.9,592.6 L904.4,592.7 L903.9,592.8 L903.4,592.8 L902.9,592.9 L902.4,593.0 L901.9,593.1 L901.4,593.1 L900.9,593.2 L900.4,593.3 L899.9,593.4 L899.4,593.4 L898.9,593.5 L898.4,593.6 L897.9,593.7 L897.4,593.7 L896.9,593.8 L896.4,593.9 L895.9,594.0 L895.4,594.0 L894.9,594.1 L894.4,594.2 L893.9,594.3 L893.4,594.3 L892.9,594.4 L892.4,594.5 L891.9,594.6 L891.4,594.6 L890.9,594.7 L890.4,594.8 L889.9,594.9 L889.4,594.9 L888.9,595.0 L888.4,595.1 L887.9,595.2 L887.4,595.3 L886.9,595.4 L886.4,595.4 L885.9,595.5 L885.4,595.6 L884.9,595.6 L884.4,595.7 L883.9,595.8 L883.4,595.9 L882.9,596.0 L882.4,596.0 L881.9,596.1 L881.4,596.2 L880.9,596.3 L880.4,596.3 L879.9,596.4 L879.4,596.5 L878.9,596.5 L878.4,596.6 L877.9,596.7 L877.4,596.8 L876.9,596.8 L876.4,596.9 L875.9,597.0 L875.4,597.1 L874.9,597.1 L874.4,597.2 L873.9,597.3 L873.4,597.4 L872.9,597.5 L872.4,597.5 L871.9,597.6 L871.4,597.7 L870.9,597.7 L870.4,597.8 L869.9,597.9 L869.4,598.0 L868.9,598.0 L868.4,598.1 L867.9,598.2 L867.4,598.3 L866.9,598.4 L866.4,598.4 L865.9,598.5 L865.4,598.6 L864.9,598.6 L864.4,598.8 L863.9,598.8 L863.4,598.9 L862.9,598.9 L862.4,599.1 L861.9,599.1 L861.4,599.2 L860.9,599.3 L860.4,599.4 L859.9,599.4 L859.4,599.5 L858.9,599.6 L858.4,599.7 L857.9,599.8 L857.4,599.8 L856.9,599.9 L856.4,600.0 L855.9,600.1 L855.4,600.1 L854.9,600.2 L854.4,600.3 L853.9,600.4 L853.4,600.5 L852.9,600.5 L852.4,600.6 L851.9,600.7 L851.4,600.8 L850.9,600.9 L850.4,600.9 L849.9,601.0 L849.4,601.1 L848.9,601.2 L848.4,601.3 L847.9,601.3 L847.4,601.4 L846.9,601.5 L846.4,601.5 L845.9,601.7 L845.4,601.7 L844.9,601.8 L844.4,601.9 L843.9,601.9 L843.4,602.0 L842.9,602.1 L842.4,602.2 L841.9,602.3 L841.4,602.4 L840.9,602.4 L840.4,602.5 L839.9,602.6 L839.4,602.6 L838.9,602.8 L838.4,602.9 L837.9,603.0 L837.4,603.0 L836.9,603.1 L836.4,603.2 L835.9,603.3 L835.4,603.4 L834.9,603.4 L834.4,603.6 L833.9,603.7 L833.4,603.8 L832.9,603.9 L832.4,604.0 L831.9,604.1 L831.4,604.2 L830.9,604.3 L830.4,604.4 L829.9,604.5 L829.4,604.6 L828.9,604.7 L828.4,604.8 L827.9,604.9 L827.4,605.0 L826.9,605.1 L826.4,605.2 L825.9,605.3 L825.4,605.4 L824.9,605.5 L824.4,605.6 L823.9,605.7 L823.4,605.8 L822.9,605.9 L822.4,606.0 L821.9,606.2 L821.4,606.3 L820.9,606.4 L820.4,606.5 L819.9,606.6 L819.4,606.7 L818.9,606.8 L818.4,606.9 L817.9,607.0 L817.4,607.1 L816.9,607.3 L816.4,607.4 L815.9,607.5 L815.4,607.6 L814.9,607.8 L814.4,607.9 L813.9,608.0 L813.4,608.1 L812.9,608.2 L812.4,608.3 L811.9,608.4 L811.4,608.5 L810.9,608.6 L810.4,608.7 L809.9,608.9 L809.4,609.0 L808.9,609.2 L808.4,609.3 L807.9,609.4 L807.4,609.5 L806.9,609.6 L806.4,609.7 L805.9,609.8 L805.4,609.9 L804.9,610.1 L804.4,610.2 L803.9,610.3 L803.4,610.4 L802.9,610.6 L802.4,610.7 L801.9,610.8 L801.4,610.9 L800.9,611.1 L800.4,611.2 L799.9,611.3 L799.4,611.4 L798.9,611.5 L798.4,611.6 L797.9,611.7 L797.4,611.8 L796.9,611.9 L796.4,612.1 L795.9,612.3 L795.4,612.4 L794.9,612.5 L794.4,612.6 L793.9,612.7 L793.4,612.8 L792.9,612.9 L792.4,613.0 L791.9,613.2 L791.4,613.3 L790.9,613.4 L790.4,613.5 L789.9,613.6 L789.4,613.7 L788.9,613.8 L788.4,613.9 L787.9,614.0 L787.4,614.2 L786.9,614.4 L786.4,614.5 L785.9,614.6 L785.4,614.7 L784.9,614.8 L784.4,614.9 L783.9,615.0 L783.4,615.1 L782.9,615.2 L782.4,615.4 L781.9,615.5 L781.4,615.6 L780.9,615.7 L780.4,615.9 L779.9,616.0 L779.4,616.1 L778.9,616.2 L778.4,616.4 L777.9,616.5 L777.4,616.6 L776.9,616.7 L776.4,616.8 L775.9,617.0 L775.4,617.1 L774.9,617.3 L774.4,617.4 L773.9,617.5 L773.4,617.6 L772.9,617.7 L772.4,617.9 L771.9,618.1 L771.4,618.2 L770.9,618.3 L770.4,618.4 L769.9,618.5 L769.4,618.6 L768.9,618.9 L768.4,619.0 L767.9,619.1 L767.4,619.2 L766.9,619.3 L766.4,619.4 L765.9,619.7 L765.4,619.8 L764.9,619.9 L764.4,620.0 L763.9,620.1 L763.4,620.3 L762.9,620.5 L762.4,620.6 L761.9,620.7 L761.4,620.9 L760.9,621.0 L760.4,621.1 L759.9,621.2 L759.4,621.4 L758.9,621.6 L758.4,621.7 L757.9,621.9 L757.4,622.0 L756.9,622.1 L756.4,622.3 L755.9,622.4 L755.4,622.5 L754.9,622.7 L754.4,622.8 L753.9,622.9 L753.4,623.2 L752.9,623.3 L752.4,623.4 L751.9,623.6 L751.4,623.7 L750.9,623.8 L750.4,624.0 L749.9,624.1 L749.4,624.3 L748.9,624.4 L748.4,624.5 L747.9,624.8 L747.4,624.9 L746.9,625.0 L746.4,625.2 L745.9,625.3 L745.4,625.4 L744.9,625.6 L744.4,625.8 L743.9,625.9 L743.4,626.1 L742.9,626.2 L742.4,626.3 L741.9,626.4 L741.4,626.6 L740.9,626.8 L740.4,626.9 L739.9,627.1 L739.4,627.2 L738.9,627.3 L738.4,627.6 L737.9,627.7 L737.4,627.8 L736.9,628.0 L736.4,628.1 L735.9,628.2 L735.4,628.5 L734.9,628.6 L734.4,628.7 L733.9,628.9 L733.4,629.0 L732.9,629.1 L732.4,629.3 L731.9,629.4 L731.4,629.6 L730.9,629.8 L730.4,630.0 L729.9,630.1 L729.4,630.2 L728.9,630.4 L728.4,630.5 L727.9,630.7 L727.4,630.8 L726.9,631.0 L726.4,631.1 L725.9,631.3 L725.4,631.5 L724.9,631.6 L724.4,631.8 L723.9,631.9 L723.4,632.1 L722.9,632.2 L722.4,632.3 L721.9,632.4 L721.4,632.7 L720.9,632.9 L720.4,633.0 L719.9,633.2 L719.4,633.3 L718.9,633.5 L718.4,633.7 L717.9,633.8 L717.4,634.0 L716.9,634.1 L716.4,634.4 L715.9,634.6 L715.4,634.7 L714.9,635.0 L714.4,635.2 L713.9,635.3 L713.4,635.6 L712.9,635.7 L712.4,635.9 L711.9,636.2 L711.4,636.3 L710.9,636.5 L710.4,636.8 L709.9,636.9 L709.4,637.1 L708.9,637.4 L708.4,637.6 L707.9,637.7 L707.4,638.0 L706.9,638.2 L706.4,638.4 L705.9,638.6 L705.4,638.7 L704.9,638.9 L704.4,639.1 L703.9,639.3 L703.4,639.5 L702.9,639.7 L702.4,639.9 L701.9,640.1 L701.4,640.3 L700.9,640.5 L700.4,640.7 L699.9,640.9 L699.4,641.1 L698.9,641.3 L698.4,641.5 L697.9,641.7 L697.4,641.9 L696.9,642.1 L696.4,642.4 L695.9,642.6 L695.4,642.8 L694.9,643.2 L694.4,643.4 L693.9,643.8 L693.4,644.0 L692.9,644.3 L692.4,644.7 L691.9,644.9 L691.4,645.3 L690.9,645.7 L690.4,646.0 L689.9,646.4 L689.4,646.8 L688.9,647.1 L688.4,647.5 L687.9,647.9 L687.4,648.4 L686.9,648.8 L686.4,649.3 L685.9,649.7 L685.4,650.2 L684.9,650.8 L684.4,651.3 L683.9,651.8 L683.4,652.4 L682.9,653.0 L682.4,653.6 L681.9,654.2 L681.4,654.9 L680.9,655.6 L680.4,656.3 L679.9,657.0 L679.4,657.7 L678.9,658.4 L678.4,659.1 L677.9,659.7 L677.4,660.4 L676.9,661.1 L676.4,661.8 L675.9,662.6 L675.4,663.4 L674.9,664.3 L674.4,665.6 L673.9,666.7 L673.4,667.9 L672.9,669.2 L672.4,669.6 L671.9,669.6 L671.4,669.6 L670.9,669.6 L670.4,669.6 L669.9,669.6 Z" fill="#000080" stroke="#000080" stroke-width="3" stroke-linejoin="round"/>
<path d="M671.3,673.5 L671.8,673.2 L672.3,672.8 L672.8,672.4 L673.3,672.0 L673.8,671.6 L674.3,671.2 L674.8,670.8 L675.3,670.3 L675.8,669.9 L676.3,669.4 L676.8,668.9 L677.3,668.5 L677.8,667.9 L678.3,667.4 L678.8,666.9 L679.3,666.4 L679.8,665.8 L680.3,665.3 L680.8,664.9 L681.3,664.4 L681.8,663.8 L682.3,663.3 L682.8,662.7 L683.3,662.3 L683.8,661.8 L684.3,661.3 L684.8,660.8 L685.3,660.4 L685.8,659.8 L686.3,659.4 L686.8,658.9 L687.3,658.5 L687.8,658.2 L688.3,657.7 L688.8,657.2 L689.3,656.8 L689.8,656.5 L690.3,656.0 L690.8,655.6 L691.3,655.2 L691.8,654.8 L692.3,654.5 L692.8,654.0 L693.3,653.7 L693.8,653.4 L694.3,653.1 L694.8,652.9 L695.3,652.5 L695.8,652.3 L696.3,652.0 L696.8,651.8 L697.3,651.5 L697.8,651.3 L698.3,651.1 L698.8,650.8 L699.3,650.6 L699.8,650.3 L700.3,650.1 L700.8,649.9 L701.3,649.6 L701.8,649.4 L702.3,649.1 L702.8,648.9 L703.3,648.8 L703.8,648.6 L704.3,648.5 L704.8,648.4 L705.3,648.3 L705.8,648.3 L706.3,648.3 L706.8,648.3 L707.3,648.3 L707.8,648.3 L708.3,648.3 L708.8,648.3 L709.3,648.3 L709.8,648.3 L710.3,648.3 L710.8,648.4 L711.3,648.5 L711.8,648.7 L712.3,648.9 L712.8,649.1 L713.3,649.3 L713.8,649.6 L714.3,649.8 L714.8,650.1 L715.3,650.4 L715.8,650.7 L716.3,651.1 L716.8,651.4 L717.3,651.9 L717.8,652.3 L718.3,652.7 L718.8,652.8 L719.3,652.7 L719.8,652.5 L720.3,652.3 L720.8,652.1 L721.3,651.9 L721.8,651.7 L722.3,651.5 L722.8,651.3 L723.3,651.0 L723.8,650.7 L724.3,650.5 L724.8,650.1 L725.3,649.8 L725.8,649.5 L726.3,649.1 L726.8,648.7 L727.3,648.2 L727.8,647.7 L728.3,647.4 L728.8,646.9 L729.3,646.5 L729.8,646.1 L730.3,645.7 L730.8,645.3 L731.3,645.0 L731.8,644.7 L732.3,644.3 L732.8,644.1 L733.3,643.8 L733.8,643.4 L734.3,643.1 L734.8,642.9 L735.3,642.6 L735.8,642.4 L736.3,642.1 L736.8,641.9 L737.3,641.8 L737.8,641.5 L738.3,641.4 L738.8,641.4 L739.3,641.3 L739.8,641.3 L740.3,641.3 L740.8,641.3 L741.3,641.3 L741.8,641.3 L742.3,641.3 L742.8,641.3 L743.3,641.3 L743.8,641.3 L744.3,641.3 L744.8,641.3 L745.3,641.4 L745.8,641.5 L746.3,641.5 L746.8,641.6 L747.3,641.7 L747.8,641.8 L748.3,641.8 L748.8,641.9 L749.3,641.9 L749.8,642.0 L750.3,642.1 L750.8,642.1 L751.3,642.2 L751.8,642.3 L752.3,642.4 L752.8,642.5 L753.3,642.6 L753.8,642.6 L754.3,642.8 L754.8,642.8 L755.3,642.9 L755.8,643.1 L756.3,643.2 L756.8,643.3 L757.3,643.5 L757.8,643.5 L758.3,643.7 L758.8,643.8 L759.3,643.9 L759.8,644.1 L760.3,644.2 L760.8,644.3 L761.3,644.5 L761.8,644.5 L762.3,644.7 L762.8,644.7 L763.3,644.9 L763.8,644.9 L764.3,645.0 L764.8,645.1 L765.3,645.1 L765.8,645.2 L766.3,645.2 L766.8,645.3 L767.3,645.3 L767.8,645.3 L768.3,645.2 L768.8,645.2 L769.3,645.1 L769.8,645.1 L770.3,645.1 L770.8,645.0 L771.3,645.0 L771.8,645.0 L772.3,644.9 L772.8,644.9 L773.3,644.8 L773.8,644.8 L774.3,644.8 L774.8,644.7 L775.3,644.7 L775.8,644.6 L776.3,644.6 L776.8,644.6 L777.3,644.6 L777.8,644.6 L778.3,644.5 L778.8,644.5 L779.3,644.5 L779.8,644.5 L780.3,644.5 L780.8,644.5 L781.3,644.5 L781.8,644.5 L782.3,644.5 L782.8,644.5 L783.3,644.5 L783.8,644.5 L784.3,644.5 L784.8,644.6 L785.3,644.6 L785.8,644.7 L786.3,644.7 L786.8,644.7 L787.3,644.8 L787.8,644.9 L788.3,645.0 L788.8,645.1 L789.3,645.2 L789.8,645.3 L790.3,645.5 L790.8,645.5 L791.3,645.7 L791.8,645.8 L792.3,646.0 L792.8,646.0 L793.3,646.1 L793.8,646.2 L794.3,646.3 L794.8,646.4 L795.3,646.5 L795.8,646.5 L796.3,646.5 L796.8,646.4 L797.3,646.4 L797.8,646.4 L798.3,646.3 L798.8,646.3 L799.3,646.2 L799.8,646.1 L800.3,646.1 L800.8,646.0 L801.3,645.9 L801.8,645.9 L802.3,645.8 L802.8,645.8 L803.3,645.6 L803.8,645.6 L804.3,645.5 L804.8,645.4 L805.3,645.3 L805.8,645.2 L806.3,645.1 L806.8,645.0 L807.3,645.0 L807.8,644.8 L808.3,644.7 L808.8,644.6 L809.3,644.5 L809.8,644.4 L810.3,644.3 L810.8,644.1 L811.3,643.9 L811.8,643.8 L812.3,643.7 L812.8,643.6 L813.3,643.3 L813.8,643.2 L814.3,643.1 L814.8,643.0 L815.3,642.7 L815.8,642.6 L816.3,642.5 L816.8,642.2 L817.3,642.1 L817.8,641.9 L818.3,641.7 L818.8,641.6 L819.3,641.5 L819.8,641.2 L820.3,641.1 L820.8,641.0 L821.3,640.8 L821.8,640.7 L822.3,640.5 L822.8,640.3 L823.3,640.2 L823.8,640.1 L824.3,639.9 L824.8,639.8 L825.3,639.7 L825.8,639.6 L826.3,639.5 L826.8,639.4 L827.3,639.3 L827.8,639.1 L828.3,639.0 L828.8,639.0 L829.3,638.8 L829.8,638.7 L830.3,638.6 L830.8,638.5 L831.3,638.4 L831.8,638.3 L832.3,638.2 L832.8,638.0 L833.3,637.9 L833.8,637.7 L834.3,637.6 L834.8,637.4 L835.3,637.2 L835.8,637.0 L836.3,636.8 L836.8,636.7 L837.3,636.5 L837.8,636.3 L838.3,636.1 L838.8,636.0 L839.3,635.8 L839.8,635.7 L840.3,635.5 L840.8,635.4 L841.3,635.3 L841.8,635.2 L842.3,635.1 L842.8,635.1 L843.3,635.1 L843.8,635.1 L844.3,635.1 L844.8,635.1 L845.3,635.1 L845.8,635.1 L846.3,635.1 L846.8,635.1 L847.3,635.1 L847.8,635.1 L848.3,635.1 L848.8,635.1 L849.3,635.1 L849.8,635.2 L850.3,635.2 L850.8,635.3 L851.3,635.4 L851.8,635.4 L852.3,635.5 L852.8,635.6 L853.3,635.7 L853.8,635.7 L854.3,635.9 L854.8,635.9 L855.3,636.1 L855.8,636.1 L856.3,636.2 L856.8,636.3 L857.3,636.4 L857.8,636.5 L858.3,636.6 L858.8,636.7 L859.3,636.8 L859.8,636.8 L860.3,636.9 L860.8,637.0 L861.3,637.0 L861.8,637.0 L862.3,637.1 L862.8,637.1 L863.3,637.2 L863.8,637.2 L864.3,637.2 L864.8,637.3 L865.3,637.4 L865.8,637.5 L866.3,637.7 L866.8,637.9 L867.3,638.1 L867.8,638.6 L868.3,639.3 L868.8,640.3 L869.3,641.5 L869.8,642.7 L870.3,643.5 L870.8,644.2 L871.3,645.2 L871.8,645.3 L872.3,645.1 L872.8,644.9 L873.3,644.6 L873.8,644.3 L874.3,644.1 L874.8,643.9 L875.3,643.7 L875.8,643.5 L876.3,643.3 L876.8,643.2 L877.3,643.1 L877.8,643.0 L878.3,643.0 L878.8,643.0 L879.3,643.0 L879.8,643.0 L880.3,643.0 L880.8,643.0 L881.3,643.0 L881.8,643.0 L882.3,643.0 L882.8,643.0 L883.3,643.1 L883.8,643.1 L884.3,643.1 L884.8,643.2 L885.3,643.3 L885.8,643.4 L886.3,643.5 L886.8,643.6 L887.3,643.7 L887.8,643.8 L888.3,643.9 L888.8,644.0 L889.3,644.1 L889.8,644.2 L890.3,644.3 L890.8,644.4 L891.3,644.5 L891.8,644.5 L892.3,644.6 L892.8,644.7 L893.3,644.7 L893.8,644.7 L894.3,644.7 L894.8,644.6 L895.3,644.5 L895.8,644.5 L896.3,644.4 L896.8,644.4 L897.3,644.3 L897.8,644.2 L898.3,644.2 L898.8,644.0 L899.3,644.0 L899.8,643.9 L900.3,643.7 L900.8,643.6 L901.3,643.5 L901.8,643.4 L902.3,643.2 L902.8,643.0 L903.3,643.0 L903.8,642.7 L904.3,642.6 L904.8,642.4 L905.3,642.2 L905.8,641.9 L906.3,641.8 L906.8,641.5 L907.3,641.3 L907.8,641.0 L908.3,640.8 L908.8,640.5 L909.3,640.2 L909.8,640.0 L910.3,639.7 L910.8,639.5 L911.3,639.2 L911.8,639.0 L912.3,638.7 L912.8,638.4 L913.3,638.3 L913.8,638.0 L914.3,637.7 L914.8,637.5 L915.3,637.3 L915.8,637.2 L916.3,637.0 L916.8,636.8 L917.3,636.7 L917.8,636.5 L918.3,636.4 L918.8,636.3 L919.3,636.2 L919.8,636.1 L920.3,636.0 L920.8,635.9 L921.3,635.9 L921.8,635.8 L922.3,635.7 L922.8,635.6 L923.3,635.6 L923.8,635.5 L924.3,635.4 L924.8,635.4 L925.3,635.3 L925.8,635.2 L926.3,635.2 L926.8,635.1 L927.3,635.0 L927.8,635.0 L928.3,635.0 L928.8,634.9 L929.3,634.9 L929.8,634.9 L930.3,634.8 L930.8,634.8 L931.3,634.8 L931.8,634.8 L932.3,634.8 L932.8,634.8 L933.3,634.8 L933.8,634.8 L934.3,634.8 L934.8,634.8 L935.3,634.8 L935.8,634.8 L936.3,634.8 L936.8,634.8 L937.3,634.8 L937.8,634.8 L938.3,634.8 L938.8,634.8 L939.3,634.8 L939.8,634.8 L940.3,634.8 L940.8,634.8 L941.3,634.8 L941.8,634.8 L942.3,634.9 L942.8,634.9 L943.3,634.9 L943.8,634.9 L944.3,634.9 L944.8,634.9 L945.3,634.9 L945.8,635.0 L946.3,635.0 L946.8,635.0 L947.3,635.0 L947.8,635.1 L948.3,635.1 L948.8,635.2 L949.3,635.2 L949.8,635.3 L950.3,635.3 L950.8,635.4 L951.3,635.4 L951.8,635.5 L952.3,635.6 L952.8,635.7 L953.3,635.8 L953.8,636.0 L954.3,636.2 L954.8,636.5 L955.3,636.7 L955.8,637.0 L956.3,637.4 L956.8,637.9 L957.3,638.2 L957.8,638.6 L958.3,638.9 L958.8,639.3 L959.3,639.7 L959.8,640.1 L960.3,640.6 L960.8,641.1 L961.3,641.5 L961.8,641.9 L962.3,642.3 L962.8,642.5 L963.3,642.7 L963.8,642.9 L964.3,643.0 L964.8,643.1 L965.3,643.2 L965.8,643.2 L966.3,643.3 L966.8,643.4 L967.3,643.4 L967.8,643.4 L968.3,643.5 L968.8,643.5 L969.3,643.5 L969.8,643.5 L970.3,643.5 L970.8,643.5 L971.3,643.4 L971.8,643.4 L972.3,643.4 L972.8,643.3 L973.3,643.3 L973.8,643.3 L974.3,643.2 L974.8,643.1 L975.3,643.0 L975.8,643.0 L976.3,642.9 L976.8,642.8 L977.3,642.7 L977.8,642.6 L978.3,642.4 L978.8,642.3 L979.3,642.2 L979.8,642.0 L980.3,641.9 L980.8,641.7 L981.3,641.4 L981.8,641.3 L982.3,641.1 L982.8,640.9 L983.3,640.8 L983.8,640.6 L984.3,640.3 L984.8,640.2 L985.3,640.0 L985.8,639.9 L986.3,639.7 L986.8,639.6 L987.3,639.5 L987.8,639.3 L988.3,639.2 L988.8,639.1 L989.3,639.0 L989.8,638.9 L990.3,638.7 L990.8,638.6 L991.3,638.6 L991.8,638.4 L992.3,638.3 L992.8,638.2 L993.3,638.1 L993.8,638.0 L994.3,637.9 L994.8,637.7 L995.3,637.7 L995.8,637.6 L996.3,637.4 L996.8,637.4 L997.3,637.3 L997.8,637.3 L998.3,637.1 L998.8,637.1 L999.3,637.0 L999.8,637.0 L1000.3,636.9 L1000.8,636.9 L1001.3,636.8 L1001.8,636.8 L1002.3,636.8 L1002.8,636.8 L1003.3,636.8 L1003.8,636.8 L1004.3,636.8 L1004.8,636.8 L1005.3,636.8 L1005.8,636.8 L1006.3,636.8 L1006.8,636.8 L1007.3,636.8 L1007.8,636.8 L1008.3,636.8 L1008.8,636.9 L1009.3,636.9 L1009.8,636.9 L1010.3,637.0 L1010.8,637.1 L1011.3,637.1 L1011.8,637.2 L1012.3,637.3 L1012.8,637.4 L1013.3,637.5 L1013.8,637.6 L1014.3,637.7 L1014.8,637.8 L1015.3,637.9 L1015.8,638.0 L1016.3,638.1 L1016.8,638.2 L1017.3,638.3 L1017.8,638.5 L1018.3,638.6 L1018.8,638.6 L1019.3,638.8 L1019.8,638.9 L1020.3,639.0 L1020.8,639.1 L1021.3,639.2 L1021.8,639.2 L1022.3,639.4 L1022.8,639.4 L1023.3,639.5 L1023.8,639.6 L1024.3,639.7 L1024.8,639.8 L1025.3,639.9 L1025.8,640.0 L1026.3,640.0 L1026.8,640.1 L1027.3,640.2 L1027.8,640.3 L1028.3,640.4 L1028.8,640.5 L1029.3,640.6 L1029.8,640.6 L1030.3,640.7 L1030.8,640.8 L1031.3,640.9 L1031.8,641.0 L1032.3,641.1 L1032.8,641.1 L1033.3,641.2 L1033.8,641.3 L1034.3,641.4 L1034.8,641.4 L1035.3,641.5 L1035.8,641.6 L1036.3,641.7 L1036.8,641.8 L1037.3,641.8 L1037.8,641.9 L1038.3,642.0 L1038.8,642.0 L1039.3,642.1 L1039.8,642.2 L1040.3,642.2 L1040.8,642.3 L1041.3,642.3 L1041.8,642.4 L1042.3,642.4 L1042.8,642.5 L1043.3,642.5 L1043.8,642.6 L1044.3,642.7 L1044.8,642.7 L1045.3,642.8 L1045.8,642.8 L1046.3,642.9 L1046.8,642.9 L1047.3,643.0 L1047.8,643.0 L1047.8,652.5 L1047.3,652.5 L1046.8,652.5 L1046.3,652.5 L1045.8,652.5 L1045.3,652.5 L1044.8,652.5 L1044.3,652.5 L1043.8,652.5 L1043.3,652.4 L1042.8,652.3 L1042.3,652.3 L1041.8,652.2 L1041.3,652.2 L1040.8,652.1 L1040.3,652.1 L1039.8,652.0 L1039.3,652.0 L1038.8,651.9 L1038.3,651.9 L1037.8,651.8 L1037.3,651.7 L1036.8,651.7 L1036.3,651.6 L1035.8,651.6 L1035.3,651.5 L1034.8,651.5 L1034.3,651.4 L1033.8,651.3 L1033.3,651.2 L1032.8,651.2 L1032.3,651.1 L1031.8,651.0 L1031.3,650.9 L1030.8,650.9 L1030.3,650.8 L1029.8,650.7 L1029.3,650.6 L1028.8,650.5 L1028.3,650.5 L1027.8,650.4 L1027.3,650.3 L1026.8,650.2 L1026.3,650.1 L1025.8,650.0 L1025.3,650.0 L1024.8,649.9 L1024.3,649.8 L1023.8,649.7 L1023.3,649.6 L1022.8,649.5 L1022.3,649.4 L1021.8,649.4 L1021.3,649.3 L1020.8,649.2 L1020.3,649.1 L1019.8,649.0 L1019.3,648.9 L1018.8,648.8 L1018.3,648.8 L1017.8,648.7 L1017.3,648.6 L1016.8,648.5 L1016.3,648.4 L1015.8,648.3 L1015.3,648.2 L1014.8,648.1 L1014.3,648.0 L1013.8,647.9 L1013.3,647.8 L1012.8,647.6 L1012.3,647.5 L1011.8,647.5 L1011.3,647.3 L1010.8,647.2 L1010.3,647.1 L1009.8,647.0 L1009.3,646.9 L1008.8,646.8 L1008.3,646.7 L1007.8,646.6 L1007.3,646.6 L1006.8,646.5 L1006.3,646.4 L1005.8,646.4 L1005.3,646.3 L1004.8,646.3 L1004.3,646.3 L1003.8,646.4 L1003.3,646.4 L1002.8,646.5 L1002.3,646.5 L1001.8,646.7 L1001.3,646.7 L1000.8,646.8 L1000.3,646.9 L999.8,647.0 L999.3,647.1 L998.8,647.1 L998.3,647.3 L997.8,647.4 L997.3,647.5 L996.8,647.6 L996.3,647.7 L995.8,647.8 L995.3,648.0 L994.8,648.0 L994.3,648.2 L993.8,648.3 L993.3,648.4 L992.8,648.5 L992.3,648.6 L991.8,648.8 L991.3,648.9 L990.8,649.0 L990.3,649.1 L989.8,649.3 L989.3,649.4 L988.8,649.6 L988.3,649.9 L987.8,650.0 L987.3,650.2 L986.8,650.4 L986.3,650.5 L985.8,650.7 L985.3,650.9 L984.8,651.1 L984.3,651.3 L983.8,651.5 L983.3,651.6 L982.8,651.7 L982.3,651.9 L981.8,652.0 L981.3,652.2 L980.8,652.2 L980.3,652.3 L979.8,652.4 L979.3,652.5 L978.8,652.5 L978.3,652.6 L977.8,652.7 L977.3,652.7 L976.8,652.7 L976.3,652.8 L975.8,652.8 L975.3,652.8 L974.8,652.9 L974.3,652.9 L973.8,652.9 L973.3,652.9 L972.8,652.9 L972.3,652.9 L971.8,653.0 L971.3,653.0 L970.8,653.0 L970.3,653.0 L969.8,653.0 L969.3,653.0 L968.8,653.0 L968.3,653.0 L967.8,653.0 L967.3,653.0 L966.8,652.9 L966.3,652.9 L965.8,652.9 L965.3,652.9 L964.8,652.9 L964.3,652.9 L963.8,652.8 L963.3,652.8 L962.8,652.8 L962.3,652.7 L961.8,652.7 L961.3,652.6 L960.8,652.5 L960.3,652.5 L959.8,652.3 L959.3,652.1 L958.8,651.9 L958.3,651.8 L957.8,651.5 L957.3,651.1 L956.8,650.8 L956.3,650.3 L955.8,649.8 L955.3,649.3 L954.8,648.8 L954.3,648.5 L953.8,648.2 L953.3,647.8 L952.8,647.4 L952.3,647.1 L951.8,646.7 L951.3,646.3 L950.8,645.9 L950.3,645.7 L949.8,645.5 L949.3,645.3 L948.8,645.2 L948.3,645.0 L947.8,645.0 L947.3,644.9 L946.8,644.8 L946.3,644.7 L945.8,644.7 L945.3,644.6 L944.8,644.6 L944.3,644.5 L943.8,644.5 L943.3,644.4 L942.8,644.4 L942.3,644.4 L941.8,644.4 L941.3,644.3 L940.8,644.3 L940.3,644.3 L939.8,644.3 L939.3,644.3 L938.8,644.3 L938.3,644.3 L937.8,644.2 L937.3,644.2 L936.8,644.2 L936.3,644.2 L935.8,644.2 L935.3,644.2 L934.8,644.2 L934.3,644.2 L933.8,644.3 L933.3,644.3 L932.8,644.3 L932.3,644.4 L931.8,644.4 L931.3,644.5 L930.8,644.5 L930.3,644.6 L929.8,644.7 L929.3,644.7 L928.8,644.8 L928.3,644.9 L927.8,644.9 L927.3,645.0 L926.8,645.1 L926.3,645.2 L925.8,645.2 L925.3,645.3 L924.8,645.4 L924.3,645.4 L923.8,645.5 L923.3,645.6 L922.8,645.7 L922.3,645.9 L921.8,646.0 L921.3,646.1 L920.8,646.3 L920.3,646.4 L919.8,646.6 L919.3,646.8 L918.8,647.0 L918.3,647.3 L917.8,647.4 L917.3,647.7 L916.8,648.0 L916.3,648.1 L915.8,648.4 L915.3,648.7 L914.8,648.9 L914.3,649.2 L913.8,649.4 L913.3,649.7 L912.8,649.9 L912.3,650.2 L911.8,650.4 L911.3,650.7 L910.8,650.9 L910.3,651.2 L909.8,651.3 L909.3,651.6 L908.8,651.8 L908.3,652.0 L907.8,652.2 L907.3,652.4 L906.8,652.5 L906.3,652.6 L905.8,652.8 L905.3,653.0 L904.8,653.0 L904.3,653.2 L903.8,653.3 L903.3,653.4 L902.8,653.5 L902.3,653.6 L901.8,653.7 L901.3,653.7 L900.8,653.8 L900.3,653.9 L899.8,653.9 L899.3,654.0 L898.8,654.0 L898.3,654.1 L897.8,654.1 L897.3,654.1 L896.8,654.2 L896.3,654.2 L895.8,654.2 L895.3,654.2 L894.8,654.2 L894.3,654.2 L893.8,654.2 L893.3,654.2 L892.8,654.2 L892.3,654.2 L891.8,654.2 L891.3,654.2 L890.8,654.2 L890.3,654.2 L889.8,654.2 L889.3,654.1 L888.8,654.1 L888.3,654.0 L887.8,654.0 L887.3,653.9 L886.8,653.8 L886.3,653.7 L885.8,653.6 L885.3,653.5 L884.8,653.4 L884.3,653.3 L883.8,653.2 L883.3,653.1 L882.8,653.0 L882.3,652.9 L881.8,652.8 L881.3,652.7 L880.8,652.7 L880.3,652.8 L879.8,653.0 L879.3,653.2 L878.8,653.4 L878.3,653.6 L877.8,653.8 L877.3,654.0 L876.8,654.4 L876.3,654.6 L875.8,654.8 L875.3,655.1 L874.8,655.3 L874.3,655.5 L873.8,655.6 L873.3,655.7 L872.8,655.7 L872.3,655.7 L871.8,655.7 L871.3,655.7 L870.8,655.7 L870.3,655.7 L869.8,655.7 L869.3,655.7 L868.8,655.7 L868.3,655.6 L867.8,655.4 L867.3,655.0 L866.8,654.3 L866.3,653.4 L865.8,652.7 L865.3,651.7 L864.8,650.6 L864.3,649.2 L863.8,648.4 L863.3,647.8 L862.8,647.5 L862.3,647.2 L861.8,647.0 L861.3,646.8 L860.8,646.7 L860.3,646.7 L859.8,646.6 L859.3,646.6 L858.8,646.5 L858.3,646.5 L857.8,646.5 L857.3,646.4 L856.8,646.4 L856.3,646.3 L855.8,646.3 L855.3,646.2 L854.8,646.1 L854.3,646.0 L853.8,645.9 L853.3,645.8 L852.8,645.8 L852.3,645.6 L851.8,645.5 L851.3,645.5 L850.8,645.3 L850.3,645.3 L849.8,645.1 L849.3,645.1 L848.8,645.0 L848.3,644.9 L847.8,644.8 L847.3,644.8 L846.8,644.7 L846.3,644.6 L845.8,644.6 L845.3,644.7 L844.8,644.8 L844.3,644.9 L843.8,645.1 L843.3,645.2 L842.8,645.4 L842.3,645.5 L841.8,645.8 L841.3,646.0 L840.8,646.2 L840.3,646.3 L839.8,646.5 L839.3,646.7 L838.8,646.9 L838.3,647.0 L837.8,647.2 L837.3,647.3 L836.8,647.5 L836.3,647.6 L835.8,647.7 L835.3,647.8 L834.8,648.0 L834.3,648.1 L833.8,648.2 L833.3,648.3 L832.8,648.4 L832.3,648.5 L831.8,648.6 L831.3,648.7 L830.8,648.8 L830.3,648.9 L829.8,649.0 L829.3,649.1 L828.8,649.2 L828.3,649.4 L827.8,649.5 L827.3,649.6 L826.8,649.8 L826.3,649.9 L825.8,650.1 L825.3,650.2 L824.8,650.4 L824.3,650.5 L823.8,650.7 L823.3,650.9 L822.8,651.0 L822.3,651.2 L821.8,651.3 L821.3,651.5 L820.8,651.6 L820.3,651.9 L819.8,652.0 L819.3,652.1 L818.8,652.4 L818.3,652.5 L817.8,652.6 L817.3,652.7 L816.8,653.0 L816.3,653.1 L815.8,653.2 L815.3,653.3 L814.8,653.5 L814.3,653.7 L813.8,653.8 L813.3,653.9 L812.8,654.0 L812.3,654.1 L811.8,654.3 L811.3,654.4 L810.8,654.4 L810.3,654.6 L809.8,654.6 L809.3,654.7 L808.8,654.8 L808.3,654.9 L807.8,655.0 L807.3,655.0 L806.8,655.2 L806.3,655.2 L805.8,655.3 L805.3,655.4 L804.8,655.4 L804.3,655.5 L803.8,655.5 L803.3,655.6 L802.8,655.7 L802.3,655.7 L801.8,655.8 L801.3,655.8 L800.8,655.8 L800.3,655.9 L799.8,655.9 L799.3,655.9 L798.8,655.9 L798.3,655.9 L797.8,656.0 L797.3,656.0 L796.8,656.0 L796.3,656.0 L795.8,656.0 L795.3,656.0 L794.8,656.0 L794.3,656.0 L793.8,656.0 L793.3,656.0 L792.8,656.0 L792.3,655.9 L791.8,655.9 L791.3,655.9 L790.8,655.8 L790.3,655.7 L789.8,655.6 L789.3,655.5 L788.8,655.5 L788.3,655.4 L787.8,655.2 L787.3,655.2 L786.8,655.0 L786.3,654.9 L785.8,654.7 L785.3,654.7 L784.8,654.5 L784.3,654.4 L783.8,654.3 L783.3,654.2 L782.8,654.2 L782.3,654.1 L781.8,654.1 L781.3,654.0 L780.8,654.0 L780.3,654.0 L779.8,654.0 L779.3,654.1 L778.8,654.1 L778.3,654.1 L777.8,654.2 L777.3,654.2 L776.8,654.3 L776.3,654.3 L775.8,654.4 L775.3,654.4 L774.8,654.4 L774.3,654.5 L773.8,654.5 L773.3,654.5 L772.8,654.6 L772.3,654.6 L771.8,654.6 L771.3,654.7 L770.8,654.7 L770.3,654.7 L769.8,654.7 L769.3,654.7 L768.8,654.7 L768.3,654.7 L767.8,654.7 L767.3,654.7 L766.8,654.7 L766.3,654.7 L765.8,654.7 L765.3,654.7 L764.8,654.7 L764.3,654.7 L763.8,654.7 L763.3,654.7 L762.8,654.7 L762.3,654.6 L761.8,654.6 L761.3,654.5 L760.8,654.5 L760.3,654.4 L759.8,654.3 L759.3,654.3 L758.8,654.1 L758.3,654.1 L757.8,653.9 L757.3,653.9 L756.8,653.7 L756.3,653.6 L755.8,653.5 L755.3,653.4 L754.8,653.2 L754.3,653.1 L753.8,653.0 L753.3,652.9 L752.8,652.7 L752.3,652.6 L751.8,652.5 L751.3,652.4 L750.8,652.3 L750.3,652.2 L749.8,652.1 L749.3,652.0 L748.8,651.9 L748.3,651.8 L747.8,651.7 L747.3,651.7 L746.8,651.6 L746.3,651.5 L745.8,651.4 L745.3,651.4 L744.8,651.3 L744.3,651.2 L743.8,651.2 L743.3,651.1 L742.8,651.1 L742.3,651.0 L741.8,651.0 L741.3,651.2 L740.8,651.4 L740.3,651.7 L739.8,651.8 L739.3,652.1 L738.8,652.4 L738.3,652.7 L737.8,653.0 L737.3,653.3 L736.8,653.6 L736.3,653.9 L735.8,654.3 L735.3,654.6 L734.8,654.9 L734.3,655.2 L733.8,655.7 L733.3,656.1 L732.8,656.5 L732.3,657.0 L731.8,657.4 L731.3,657.9 L730.8,658.3 L730.3,658.7 L729.8,659.1 L729.3,659.5 L728.8,659.7 L728.3,660.0 L727.8,660.3 L727.3,660.5 L726.8,660.8 L726.3,661.1 L725.8,661.3 L725.3,661.5 L724.8,661.7 L724.3,661.8 L723.8,662.0 L723.3,662.2 L722.8,662.4 L722.3,662.5 L721.8,662.6 L721.3,662.7 L720.8,662.8 L720.3,662.8 L719.8,662.8 L719.3,662.8 L718.8,662.8 L718.3,662.8 L717.8,662.8 L717.3,662.8 L716.8,662.8 L716.3,662.8 L715.8,662.8 L715.3,662.7 L714.8,662.5 L714.3,662.3 L713.8,661.9 L713.3,661.6 L712.8,661.1 L712.3,660.7 L711.8,660.3 L711.3,660.0 L710.8,659.7 L710.3,659.4 L709.8,659.2 L709.3,658.9 L708.8,658.6 L708.3,658.4 L707.8,658.2 L707.3,658.3 L706.8,658.5 L706.3,658.7 L705.8,658.9 L705.3,659.2 L704.8,659.4 L704.3,659.7 L703.8,659.9 L703.3,660.1 L702.8,660.3 L702.3,660.6 L701.8,660.8 L701.3,661.0 L700.8,661.3 L700.3,661.5 L699.8,661.8 L699.3,662.1 L698.8,662.4 L698.3,662.7 L697.8,663.0 L697.3,663.3 L696.8,663.7 L696.3,664.1 L695.8,664.4 L695.3,664.9 L694.8,665.1 L694.3,665.6 L693.8,666.0 L693.3,666.5 L692.8,666.8 L692.3,667.3 L691.8,667.7 L691.3,668.2 L690.8,668.6 L690.3,669.1 L689.8,669.5 L689.3,669.9 L688.8,670.5 L688.3,670.9 L687.8,671.4 L687.3,672.0 L686.8,672.4 L686.3,673.0 L685.8,673.5 L685.3,674.0 L684.8,674.6 L684.3,675.1 L683.8,675.5 L683.3,676.0 L682.8,676.6 L682.3,677.1 L681.8,677.6 L681.3,678.1 L680.8,678.6 L680.3,679.1 L679.8,679.6 L679.3,680.0 L678.8,680.4 L678.3,680.9 L677.8,681.3 L677.3,681.6 L676.8,682.0 L676.3,682.4 L675.8,682.8 L675.3,682.9 L674.8,682.9 L674.3,682.9 L673.8,682.9 L673.3,682.9 L672.8,682.9 L672.3,682.9 L671.8,682.9 L671.3,682.9 Z" fill="#ff7f0e" stroke="#ff7f0e" stroke-width="1" stroke-linejoin="miter"/>
<rect x="668.5" y="673.4" width="10" height="9.6" fill="#ff7f0e"/><rect x="1040.6" y="642.4" width="9.8" height="10.2" fill="#ff7f0e"/>
<circle cx="672.2" cy="665.6" r="4.8" fill="#000080"/><circle cx="1045.2" cy="571.8" r="5" fill="#000080"/>
</g>
</svg>
</body></html>
